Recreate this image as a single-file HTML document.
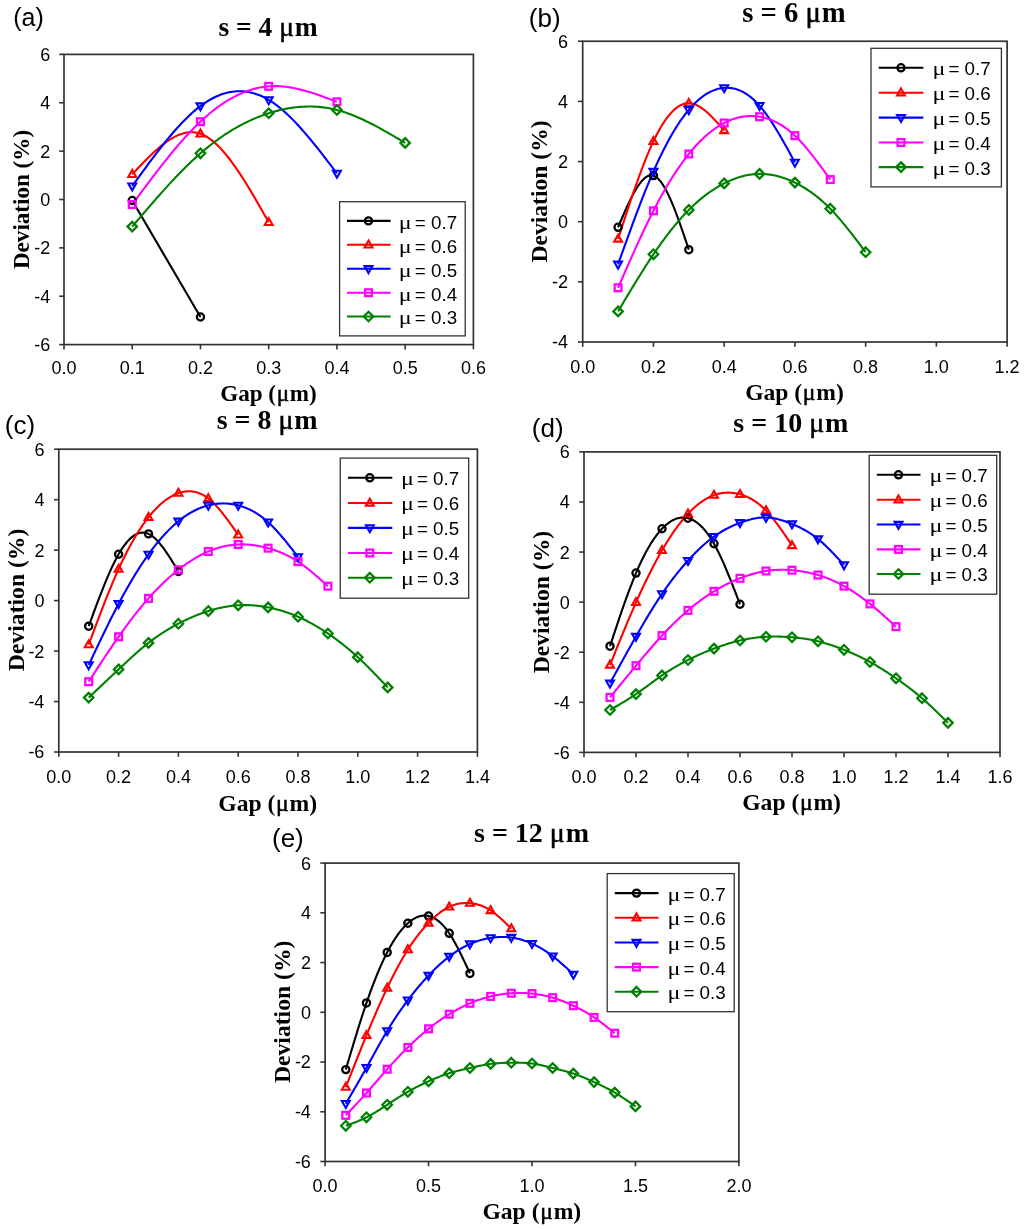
<!DOCTYPE html>
<html><head><meta charset="utf-8"><title>Deviation vs Gap</title>
<style>html,body{margin:0;padding:0;background:#fff;} svg{display:block;}</style>
</head><body>
<svg width="1024" height="1229" viewBox="0 0 1024 1229">
<rect width="1024" height="1229" fill="#fff"/>
<path d="M132.23 200.47L200.47 317.03" fill="none" stroke="#000000" stroke-width="2.1" stroke-linejoin="round"/>
<path d="M132.23 174.28L134.51 171.86L136.78 169.44L139.06 167.04L141.33 164.66L143.61 162.30L145.88 159.99L148.15 157.71L150.43 155.49L152.70 153.32L154.98 151.22L157.25 149.19L159.53 147.24L161.80 145.38L164.08 143.60L166.35 141.93L168.62 140.37L170.90 138.92L173.17 137.59L175.45 136.39L177.72 135.33L180.00 134.41L182.27 133.64L184.55 133.03L186.82 132.59L189.09 132.31L191.37 132.22L193.64 132.31L195.92 132.60L198.19 133.08L200.47 133.77L202.82 134.72L205.17 135.88L207.53 137.26L209.88 138.84L212.23 140.62L214.58 142.60L216.94 144.75L219.29 147.08L221.64 149.58L224.00 152.23L226.35 155.04L228.70 157.99L231.05 161.07L233.41 164.28L235.76 167.61L238.11 171.06L240.47 174.60L242.82 178.24L245.17 181.97L247.52 185.77L249.88 189.65L252.23 193.59L254.58 197.59L256.94 201.63L259.29 205.71L261.64 209.83L263.99 213.97L266.35 218.12L268.70 222.29" fill="none" stroke="#ff0000" stroke-width="2.1" stroke-linejoin="round"/>
<path d="M132.23 186.09L134.51 182.95L136.78 179.80L139.06 176.67L141.33 173.54L143.61 170.42L145.88 167.32L148.15 164.24L150.43 161.18L152.70 158.15L154.98 155.15L157.25 152.18L159.53 149.24L161.80 146.34L164.08 143.49L166.35 140.68L168.62 137.91L170.90 135.20L173.17 132.54L175.45 129.94L177.72 127.40L180.00 124.92L182.27 122.52L184.55 120.18L186.82 117.91L189.09 115.73L191.37 113.62L193.64 111.59L195.92 109.65L198.19 107.80L200.47 106.05L202.74 104.39L205.02 102.82L207.29 101.35L209.56 99.98L211.84 98.71L214.11 97.54L216.39 96.46L218.66 95.48L220.94 94.60L223.21 93.83L225.49 93.15L227.76 92.57L230.03 92.09L232.31 91.72L234.58 91.45L236.86 91.28L239.13 91.21L241.41 91.24L243.68 91.38L245.96 91.63L248.23 91.98L250.50 92.43L252.78 92.99L255.05 93.65L257.33 94.42L259.60 95.30L261.88 96.28L264.15 97.37L266.43 98.57L268.70 99.88L271.05 101.35L273.41 102.93L275.76 104.61L278.11 106.41L280.46 108.30L282.82 110.29L285.17 112.37L287.52 114.54L289.88 116.79L292.23 119.13L294.58 121.54L296.93 124.02L299.29 126.57L301.64 129.19L303.99 131.86L306.35 134.60L308.70 137.38L311.05 140.21L313.40 143.09L315.76 146.00L318.11 148.96L320.46 151.94L322.82 154.96L325.17 157.99L327.52 161.05L329.87 164.12L332.23 167.21L334.58 170.30L336.93 173.40" fill="none" stroke="#0000ff" stroke-width="2.1" stroke-linejoin="round"/>
<path d="M132.23 204.48L134.51 201.41L136.78 198.34L139.06 195.28L141.33 192.22L143.61 189.17L145.88 186.13L148.15 183.10L150.43 180.09L152.70 177.09L154.98 174.11L157.25 171.15L159.53 168.22L161.80 165.31L164.08 162.43L166.35 159.57L168.62 156.75L170.90 153.96L173.17 151.20L175.45 148.48L177.72 145.81L180.00 143.17L182.27 140.57L184.55 138.02L186.82 135.52L189.09 133.07L191.37 130.67L193.64 128.33L195.92 126.04L198.19 123.80L200.47 121.63L202.74 119.52L205.02 117.47L207.29 115.48L209.56 113.56L211.84 111.70L214.11 109.90L216.39 108.17L218.66 106.49L220.94 104.89L223.21 103.35L225.49 101.87L227.76 100.45L230.03 99.10L232.31 97.82L234.58 96.60L236.86 95.45L239.13 94.36L241.41 93.34L243.68 92.38L245.96 91.50L248.23 90.67L250.50 89.92L252.78 89.23L255.05 88.61L257.33 88.06L259.60 87.58L261.88 87.16L264.15 86.81L266.43 86.53L268.70 86.32L271.05 86.18L273.41 86.10L275.76 86.10L278.11 86.16L280.46 86.29L282.82 86.47L285.17 86.72L287.52 87.02L289.88 87.37L292.23 87.78L294.58 88.23L296.93 88.74L299.29 89.28L301.64 89.86L303.99 90.49L306.35 91.15L308.70 91.84L311.05 92.56L313.40 93.31L315.76 94.09L318.11 94.89L320.46 95.71L322.82 96.54L325.17 97.40L327.52 98.26L329.87 99.14L332.23 100.02L334.58 100.91L336.93 101.80" fill="none" stroke="#ff00ff" stroke-width="2.1" stroke-linejoin="round"/>
<path d="M132.23 226.59L134.51 223.91L136.78 221.24L139.06 218.57L141.33 215.91L143.61 213.25L145.88 210.60L148.15 207.96L150.43 205.33L152.70 202.71L154.98 200.11L157.25 197.52L159.53 194.95L161.80 192.40L164.08 189.87L166.35 187.35L168.62 184.87L170.90 182.40L173.17 179.96L175.45 177.55L177.72 175.17L180.00 172.82L182.27 170.51L184.55 168.22L186.82 165.97L189.09 163.76L191.37 161.59L193.64 159.45L195.92 157.36L198.19 155.31L200.47 153.31L202.74 151.35L205.02 149.44L207.29 147.57L209.56 145.75L211.84 143.97L214.11 142.24L216.39 140.55L218.66 138.91L220.94 137.31L223.21 135.75L225.49 134.24L227.76 132.77L230.03 131.34L232.31 129.95L234.58 128.61L236.86 127.30L239.13 126.04L241.41 124.82L243.68 123.64L245.96 122.50L248.23 121.40L250.50 120.34L252.78 119.32L255.05 118.34L257.33 117.40L259.60 116.50L261.88 115.63L264.15 114.80L266.43 114.01L268.70 113.26L270.97 112.55L273.25 111.87L275.52 111.23L277.80 110.63L280.07 110.07L282.35 109.54L284.62 109.06L286.90 108.62L289.17 108.22L291.44 107.86L293.72 107.54L295.99 107.26L298.27 107.03L300.54 106.84L302.82 106.69L305.09 106.59L307.37 106.53L309.64 106.51L311.91 106.55L314.19 106.62L316.46 106.75L318.74 106.92L321.01 107.14L323.29 107.40L325.56 107.71L327.84 108.08L330.11 108.49L332.38 108.95L334.66 109.46L336.93 110.02L339.29 110.66L341.64 111.34L343.99 112.08L346.34 112.87L348.70 113.70L351.05 114.58L353.40 115.50L355.76 116.46L358.11 117.47L360.46 118.51L362.81 119.58L365.17 120.69L367.52 121.83L369.87 123.00L372.23 124.20L374.58 125.43L376.93 126.68L379.29 127.95L381.64 129.25L383.99 130.56L386.34 131.89L388.70 133.24L391.05 134.59L393.40 135.96L395.76 137.34L398.11 138.73L400.46 140.12L402.81 141.51L405.17 142.91" fill="none" stroke="#008000" stroke-width="2.1" stroke-linejoin="round"/>
<circle cx="132.23" cy="200.47" r="3.60" fill="none" stroke="#000000" stroke-width="2.25"/>
<circle cx="200.47" cy="317.03" r="3.60" fill="none" stroke="#000000" stroke-width="2.25"/>
<path d="M132.23 169.98L136.18 176.93L128.28 176.93Z" fill="none" stroke="#ff0000" stroke-width="2.09" stroke-linejoin="miter"/>
<path d="M200.47 129.47L204.42 136.42L196.52 136.42Z" fill="none" stroke="#ff0000" stroke-width="2.09" stroke-linejoin="miter"/>
<path d="M268.70 217.99L272.65 224.94L264.75 224.94Z" fill="none" stroke="#ff0000" stroke-width="2.09" stroke-linejoin="miter"/>
<path d="M132.23 190.39L136.18 183.44L128.28 183.44Z" fill="none" stroke="#0000ff" stroke-width="2.09" stroke-linejoin="miter"/>
<path d="M200.47 110.35L204.42 103.40L196.52 103.40Z" fill="none" stroke="#0000ff" stroke-width="2.09" stroke-linejoin="miter"/>
<path d="M268.70 104.18L272.65 97.23L264.75 97.23Z" fill="none" stroke="#0000ff" stroke-width="2.09" stroke-linejoin="miter"/>
<path d="M336.93 177.70L340.88 170.75L332.98 170.75Z" fill="none" stroke="#0000ff" stroke-width="2.09" stroke-linejoin="miter"/>
<rect x="128.83" y="201.08" width="6.80" height="6.80" fill="none" stroke="#ff00ff" stroke-width="2.25"/>
<rect x="197.07" y="118.23" width="6.80" height="6.80" fill="none" stroke="#ff00ff" stroke-width="2.25"/>
<rect x="265.30" y="82.92" width="6.80" height="6.80" fill="none" stroke="#ff00ff" stroke-width="2.25"/>
<rect x="333.53" y="98.40" width="6.80" height="6.80" fill="none" stroke="#ff00ff" stroke-width="2.25"/>
<path d="M132.23 221.84L136.98 226.59L132.23 231.34L127.48 226.59Z" fill="none" stroke="#008000" stroke-width="2.25"/>
<path d="M200.47 148.56L205.22 153.31L200.47 158.06L195.72 153.31Z" fill="none" stroke="#008000" stroke-width="2.25"/>
<path d="M268.70 108.51L273.45 113.26L268.70 118.01L263.95 113.26Z" fill="none" stroke="#008000" stroke-width="2.25"/>
<path d="M336.93 105.27L341.68 110.02L336.93 114.77L332.18 110.02Z" fill="none" stroke="#008000" stroke-width="2.25"/>
<path d="M405.17 138.16L409.92 142.91L405.17 147.66L400.42 142.91Z" fill="none" stroke="#008000" stroke-width="2.25"/>
<rect x="64.0" y="54.4" width="409.40" height="290.20" fill="none" stroke="#333" stroke-width="1.7"/>
<line x1="64.00" y1="344.6" x2="64.00" y2="349.40000000000003" stroke="#333" stroke-width="1.6"/>
<text x="64.00" y="373.7" font-family="'Liberation Sans', Arial, sans-serif" font-size="18" text-anchor="middle">0.0</text>
<line x1="132.23" y1="344.6" x2="132.23" y2="349.40000000000003" stroke="#333" stroke-width="1.6"/>
<text x="132.23" y="373.7" font-family="'Liberation Sans', Arial, sans-serif" font-size="18" text-anchor="middle">0.1</text>
<line x1="200.47" y1="344.6" x2="200.47" y2="349.40000000000003" stroke="#333" stroke-width="1.6"/>
<text x="200.47" y="373.7" font-family="'Liberation Sans', Arial, sans-serif" font-size="18" text-anchor="middle">0.2</text>
<line x1="268.70" y1="344.6" x2="268.70" y2="349.40000000000003" stroke="#333" stroke-width="1.6"/>
<text x="268.70" y="373.7" font-family="'Liberation Sans', Arial, sans-serif" font-size="18" text-anchor="middle">0.3</text>
<line x1="336.93" y1="344.6" x2="336.93" y2="349.40000000000003" stroke="#333" stroke-width="1.6"/>
<text x="336.93" y="373.7" font-family="'Liberation Sans', Arial, sans-serif" font-size="18" text-anchor="middle">0.4</text>
<line x1="405.17" y1="344.6" x2="405.17" y2="349.40000000000003" stroke="#333" stroke-width="1.6"/>
<text x="405.17" y="373.7" font-family="'Liberation Sans', Arial, sans-serif" font-size="18" text-anchor="middle">0.5</text>
<line x1="473.40" y1="344.6" x2="473.40" y2="349.40000000000003" stroke="#333" stroke-width="1.6"/>
<text x="473.40" y="373.7" font-family="'Liberation Sans', Arial, sans-serif" font-size="18" text-anchor="middle">0.6</text>
<line x1="59.2" y1="344.60" x2="64.0" y2="344.60" stroke="#333" stroke-width="1.6"/>
<text x="50.3" y="351.04" font-family="'Liberation Sans', Arial, sans-serif" font-size="18" text-anchor="end">-6</text>
<line x1="59.2" y1="296.23" x2="64.0" y2="296.23" stroke="#333" stroke-width="1.6"/>
<text x="50.3" y="302.68" font-family="'Liberation Sans', Arial, sans-serif" font-size="18" text-anchor="end">-4</text>
<line x1="59.2" y1="247.87" x2="64.0" y2="247.87" stroke="#333" stroke-width="1.6"/>
<text x="50.3" y="254.31" font-family="'Liberation Sans', Arial, sans-serif" font-size="18" text-anchor="end">-2</text>
<line x1="59.2" y1="199.50" x2="64.0" y2="199.50" stroke="#333" stroke-width="1.6"/>
<text x="50.3" y="205.94" font-family="'Liberation Sans', Arial, sans-serif" font-size="18" text-anchor="end">0</text>
<line x1="59.2" y1="151.13" x2="64.0" y2="151.13" stroke="#333" stroke-width="1.6"/>
<text x="50.3" y="157.58" font-family="'Liberation Sans', Arial, sans-serif" font-size="18" text-anchor="end">2</text>
<line x1="59.2" y1="102.77" x2="64.0" y2="102.77" stroke="#333" stroke-width="1.6"/>
<text x="50.3" y="109.21" font-family="'Liberation Sans', Arial, sans-serif" font-size="18" text-anchor="end">4</text>
<line x1="59.2" y1="54.40" x2="64.0" y2="54.40" stroke="#333" stroke-width="1.6"/>
<text x="50.3" y="60.84" font-family="'Liberation Sans', Arial, sans-serif" font-size="18" text-anchor="end">6</text>
<text x="268.0" y="35.8" font-family="'Liberation Serif', 'Times New Roman', serif" font-weight="bold" font-size="27.5" text-anchor="middle">s = 4 <tspan font-weight="normal" stroke="#000" stroke-width="0.5">μ</tspan><tspan dx="0.8">m</tspan></text>
<text x="268.5" y="400.9" font-family="'Liberation Serif', 'Times New Roman', serif" font-weight="bold" font-size="23.1" text-anchor="middle">Gap (<tspan dx="0.6" font-weight="normal" stroke="#000" stroke-width="0.5">μ</tspan><tspan dx="0.8">m)</tspan></text>
<text transform="translate(29.2 199.5) rotate(-90)" x="0" y="0" font-family="'Liberation Serif', 'Times New Roman', serif" font-weight="bold" font-size="23.1" text-anchor="middle">Deviation (%)</text>
<text x="13.2" y="25.8" font-family="'Liberation Sans', Arial, sans-serif" font-size="25">(a)</text>
<rect x="339.6" y="201.7" width="125.60" height="134.20" fill="#fff" stroke="#333" stroke-width="1.3"/>
<line x1="347" y1="220.9" x2="390.6" y2="220.9" stroke="#000000" stroke-width="2.1"/>
<circle cx="368.50" cy="220.90" r="3.60" fill="none" stroke="#000000" stroke-width="2.25"/>
<text transform="translate(398.80 228.70) scale(1.28 1)" font-family="'Liberation Serif', 'Times New Roman', serif" font-size="18.8">μ</text>
<text x="414.80" y="228.70" font-family="'Liberation Sans', Arial, sans-serif" font-size="18.8">= 0.7</text>
<line x1="347" y1="244.8" x2="390.6" y2="244.8" stroke="#ff0000" stroke-width="2.1"/>
<path d="M368.50 240.50L372.45 247.45L364.55 247.45Z" fill="none" stroke="#ff0000" stroke-width="2.09" stroke-linejoin="miter"/>
<text transform="translate(398.80 252.60) scale(1.28 1)" font-family="'Liberation Serif', 'Times New Roman', serif" font-size="18.8">μ</text>
<text x="414.80" y="252.60" font-family="'Liberation Sans', Arial, sans-serif" font-size="18.8">= 0.6</text>
<line x1="347" y1="268.8" x2="390.6" y2="268.8" stroke="#0000ff" stroke-width="2.1"/>
<path d="M368.50 273.10L372.45 266.15L364.55 266.15Z" fill="none" stroke="#0000ff" stroke-width="2.09" stroke-linejoin="miter"/>
<text transform="translate(398.80 276.60) scale(1.28 1)" font-family="'Liberation Serif', 'Times New Roman', serif" font-size="18.8">μ</text>
<text x="414.80" y="276.60" font-family="'Liberation Sans', Arial, sans-serif" font-size="18.8">= 0.5</text>
<line x1="347" y1="292.7" x2="390.6" y2="292.7" stroke="#ff00ff" stroke-width="2.1"/>
<rect x="365.10" y="289.30" width="6.80" height="6.80" fill="none" stroke="#ff00ff" stroke-width="2.25"/>
<text transform="translate(398.80 300.50) scale(1.28 1)" font-family="'Liberation Serif', 'Times New Roman', serif" font-size="18.8">μ</text>
<text x="414.80" y="300.50" font-family="'Liberation Sans', Arial, sans-serif" font-size="18.8">= 0.4</text>
<line x1="347" y1="316.5" x2="390.6" y2="316.5" stroke="#008000" stroke-width="2.1"/>
<path d="M368.50 311.75L373.25 316.50L368.50 321.25L363.75 316.50Z" fill="none" stroke="#008000" stroke-width="2.25"/>
<text transform="translate(398.80 324.30) scale(1.28 1)" font-family="'Liberation Serif', 'Times New Roman', serif" font-size="18.8">μ</text>
<text x="414.80" y="324.30" font-family="'Liberation Sans', Arial, sans-serif" font-size="18.8">= 0.3</text>
<path d="M618.07 227.29L619.25 224.52L620.42 221.76L621.60 219.01L622.78 216.28L623.96 213.58L625.14 210.92L626.32 208.29L627.50 205.72L628.68 203.20L629.86 200.74L631.03 198.36L632.21 196.05L633.39 193.82L634.57 191.69L635.75 189.65L636.93 187.72L638.11 185.90L639.29 184.20L640.47 182.62L641.64 181.18L642.82 179.88L644.00 178.72L645.18 177.72L646.36 176.88L647.54 176.21L648.72 175.71L649.90 175.39L651.08 175.26L652.25 175.33L653.43 175.60L654.65 176.09L655.87 176.80L657.09 177.73L658.31 178.85L659.53 180.17L660.75 181.67L661.97 183.35L663.19 185.20L664.41 187.21L665.63 189.38L666.85 191.69L668.07 194.15L669.29 196.73L670.51 199.44L671.73 202.27L672.95 205.20L674.17 208.23L675.39 211.36L676.60 214.57L677.82 217.86L679.04 221.22L680.26 224.64L681.48 228.12L682.70 231.64L683.92 235.20L685.14 238.79L686.36 242.40L687.58 246.03L688.80 249.67" fill="none" stroke="#000000" stroke-width="2.1" stroke-linejoin="round"/>
<path d="M618.07 238.99L619.25 235.35L620.42 231.71L621.60 228.08L622.78 224.46L623.96 220.84L625.14 217.24L626.32 213.65L627.50 210.09L628.68 206.54L629.86 203.01L631.03 199.52L632.21 196.04L633.39 192.60L634.57 189.20L635.75 185.83L636.93 182.49L638.11 179.20L639.29 175.95L640.47 172.75L641.64 169.60L642.82 166.50L644.00 163.45L645.18 160.46L646.36 157.52L647.54 154.65L648.72 151.85L649.90 149.10L651.08 146.43L652.25 143.83L653.43 141.31L654.61 138.86L655.79 136.49L656.97 134.19L658.15 131.98L659.33 129.84L660.51 127.78L661.69 125.80L662.86 123.90L664.04 122.08L665.22 120.34L666.40 118.69L667.58 117.11L668.76 115.62L669.94 114.21L671.12 112.88L672.30 111.64L673.47 110.47L674.65 109.40L675.83 108.41L677.01 107.50L678.19 106.68L679.37 105.94L680.55 105.29L681.73 104.73L682.91 104.26L684.08 103.87L685.26 103.57L686.44 103.36L687.62 103.23L688.80 103.20L690.02 103.26L691.24 103.42L692.46 103.66L693.68 103.99L694.90 104.40L696.12 104.89L697.34 105.46L698.56 106.10L699.78 106.81L701.00 107.58L702.21 108.42L703.43 109.32L704.65 110.27L705.87 111.28L707.09 112.34L708.31 113.44L709.53 114.59L710.75 115.78L711.97 117.00L713.19 118.26L714.41 119.54L715.63 120.86L716.85 122.19L718.07 123.55L719.29 124.92L720.51 126.31L721.73 127.70L722.95 129.10L724.17 130.51" fill="none" stroke="#ff0000" stroke-width="2.1" stroke-linejoin="round"/>
<path d="M618.07 264.31L619.25 261.01L620.42 257.72L621.60 254.42L622.78 251.14L623.96 247.85L625.14 244.58L626.32 241.31L627.50 238.05L628.68 234.81L629.86 231.57L631.03 228.35L632.21 225.14L633.39 221.95L634.57 218.78L635.75 215.63L636.93 212.49L638.11 209.38L639.29 206.29L640.47 203.23L641.64 200.19L642.82 197.17L644.00 194.19L645.18 191.23L646.36 188.31L647.54 185.42L648.72 182.56L649.90 179.74L651.08 176.95L652.25 174.20L653.43 171.49L654.61 168.82L655.79 166.20L656.97 163.61L658.15 161.06L659.33 158.55L660.51 156.09L661.69 153.67L662.86 151.29L664.04 148.95L665.22 146.65L666.40 144.39L667.58 142.18L668.76 140.01L669.94 137.88L671.12 135.80L672.30 133.76L673.47 131.76L674.65 129.80L675.83 127.89L677.01 126.03L678.19 124.20L679.37 122.42L680.55 120.69L681.73 119.00L682.91 117.36L684.08 115.76L685.26 114.20L686.44 112.69L687.62 111.23L688.80 109.81L689.98 108.44L691.16 107.11L692.34 105.83L693.52 104.59L694.69 103.40L695.87 102.26L697.05 101.16L698.23 100.10L699.41 99.09L700.59 98.13L701.77 97.20L702.95 96.33L704.13 95.49L705.30 94.70L706.48 93.95L707.66 93.25L708.84 92.59L710.02 91.97L711.20 91.40L712.38 90.87L713.56 90.38L714.74 89.94L715.91 89.53L717.09 89.17L718.27 88.85L719.45 88.58L720.63 88.34L721.81 88.15L722.99 88.00L724.17 87.89L725.35 87.82L726.52 87.79L727.70 87.80L728.88 87.86L730.06 87.96L731.24 88.10L732.42 88.28L733.60 88.52L734.78 88.79L735.96 89.11L737.13 89.48L738.31 89.89L739.49 90.35L740.67 90.85L741.85 91.41L743.03 92.01L744.21 92.65L745.39 93.35L746.57 94.10L747.74 94.90L748.92 95.74L750.10 96.64L751.28 97.59L752.46 98.59L753.64 99.64L754.82 100.74L756.00 101.90L757.18 103.11L758.35 104.37L759.53 105.69L760.75 107.11L761.97 108.59L763.19 110.12L764.41 111.70L765.63 113.33L766.85 115.02L768.07 116.74L769.29 118.52L770.51 120.33L771.73 122.19L772.95 124.08L774.17 126.01L775.39 127.97L776.61 129.97L777.83 132.00L779.05 134.05L780.27 136.13L781.49 138.24L782.70 140.36L783.92 142.51L785.14 144.68L786.36 146.86L787.58 149.05L788.80 151.26L790.02 153.48L791.24 155.71L792.46 157.94L793.68 160.17L794.90 162.41" fill="none" stroke="#0000ff" stroke-width="2.1" stroke-linejoin="round"/>
<path d="M618.07 287.80L619.25 285.11L620.42 282.41L621.60 279.72L622.78 277.02L623.96 274.34L625.14 271.65L626.32 268.97L627.50 266.30L628.68 263.63L629.86 260.98L631.03 258.33L632.21 255.69L633.39 253.06L634.57 250.44L635.75 247.83L636.93 245.24L638.11 242.66L639.29 240.10L640.47 237.55L641.64 235.02L642.82 232.51L644.00 230.01L645.18 227.53L646.36 225.08L647.54 222.64L648.72 220.23L649.90 217.84L651.08 215.47L652.25 213.13L653.43 210.81L654.61 208.52L655.79 206.26L656.97 204.02L658.15 201.81L659.33 199.62L660.51 197.46L661.69 195.33L662.86 193.23L664.04 191.15L665.22 189.10L666.40 187.08L667.58 185.08L668.76 183.12L669.94 181.18L671.12 179.26L672.30 177.38L673.47 175.52L674.65 173.70L675.83 171.90L677.01 170.13L678.19 168.38L679.37 166.67L680.55 164.98L681.73 163.33L682.91 161.70L684.08 160.10L685.26 158.53L686.44 156.99L687.62 155.48L688.80 154.00L689.98 152.55L691.16 151.13L692.34 149.74L693.52 148.37L694.69 147.04L695.87 145.73L697.05 144.46L698.23 143.21L699.41 142.00L700.59 140.81L701.77 139.65L702.95 138.52L704.13 137.42L705.30 136.34L706.48 135.30L707.66 134.28L708.84 133.29L710.02 132.33L711.20 131.40L712.38 130.50L713.56 129.62L714.74 128.78L715.91 127.96L717.09 127.17L718.27 126.40L719.45 125.66L720.63 124.96L721.81 124.27L722.99 123.62L724.17 122.99L725.35 122.39L726.52 121.82L727.70 121.28L728.88 120.76L730.06 120.27L731.24 119.80L732.42 119.37L733.60 118.96L734.78 118.58L735.96 118.22L737.13 117.89L738.31 117.59L739.49 117.32L740.67 117.07L741.85 116.85L743.03 116.65L744.21 116.49L745.39 116.34L746.57 116.23L747.74 116.14L748.92 116.08L750.10 116.05L751.28 116.04L752.46 116.06L753.64 116.11L754.82 116.18L756.00 116.28L757.18 116.41L758.35 116.56L759.53 116.74L760.71 116.94L761.89 117.18L763.07 117.43L764.25 117.72L765.43 118.04L766.61 118.38L767.79 118.75L768.96 119.15L770.14 119.57L771.32 120.03L772.50 120.51L773.68 121.03L774.86 121.58L776.04 122.15L777.22 122.76L778.40 123.39L779.57 124.06L780.75 124.76L781.93 125.49L783.11 126.25L784.29 127.04L785.47 127.87L786.65 128.73L787.83 129.62L789.01 130.55L790.18 131.51L791.36 132.50L792.54 133.53L793.72 134.59L794.90 135.69L796.12 136.86L797.34 138.06L798.56 139.30L799.78 140.58L801.00 141.89L802.22 143.23L803.44 144.59L804.66 145.99L805.88 147.41L807.10 148.86L808.31 150.34L809.53 151.84L810.75 153.35L811.97 154.89L813.19 156.45L814.41 158.03L815.63 159.63L816.85 161.24L818.07 162.86L819.29 164.50L820.51 166.14L821.73 167.80L822.95 169.47L824.17 171.15L825.39 172.83L826.61 174.52L827.83 176.21L829.05 177.90L830.27 179.60" fill="none" stroke="#ff00ff" stroke-width="2.1" stroke-linejoin="round"/>
<path d="M618.07 311.41L619.25 309.43L620.42 307.45L621.60 305.47L622.78 303.49L623.96 301.51L625.14 299.53L626.32 297.56L627.50 295.59L628.68 293.63L629.86 291.67L631.03 289.72L632.21 287.77L633.39 285.83L634.57 283.89L635.75 281.97L636.93 280.05L638.11 278.13L639.29 276.23L640.47 274.34L641.64 272.46L642.82 270.59L644.00 268.73L645.18 266.88L646.36 265.04L647.54 263.21L648.72 261.40L649.90 259.61L651.08 257.82L652.25 256.05L653.43 254.30L654.61 252.56L655.79 250.84L656.97 249.14L658.15 247.45L659.33 245.78L660.51 244.12L661.69 242.48L662.86 240.86L664.04 239.26L665.22 237.67L666.40 236.10L667.58 234.55L668.76 233.02L669.94 231.51L671.12 230.01L672.30 228.53L673.47 227.08L674.65 225.64L675.83 224.22L677.01 222.81L678.19 221.43L679.37 220.07L680.55 218.73L681.73 217.41L682.91 216.11L684.08 214.83L685.26 213.57L686.44 212.33L687.62 211.11L688.80 209.91L689.98 208.73L691.16 207.58L692.34 206.45L693.52 205.33L694.69 204.24L695.87 203.17L697.05 202.12L698.23 201.09L699.41 200.08L700.59 199.09L701.77 198.12L702.95 197.18L704.13 196.25L705.30 195.34L706.48 194.45L707.66 193.58L708.84 192.73L710.02 191.90L711.20 191.09L712.38 190.29L713.56 189.52L714.74 188.76L715.91 188.03L717.09 187.31L718.27 186.61L719.45 185.93L720.63 185.27L721.81 184.62L722.99 183.99L724.17 183.38L725.35 182.79L726.52 182.22L727.70 181.66L728.88 181.13L730.06 180.61L731.24 180.11L732.42 179.62L733.60 179.16L734.78 178.71L735.96 178.29L737.13 177.88L738.31 177.49L739.49 177.12L740.67 176.77L741.85 176.44L743.03 176.13L744.21 175.84L745.39 175.57L746.57 175.32L747.74 175.09L748.92 174.88L750.10 174.69L751.28 174.52L752.46 174.37L753.64 174.24L754.82 174.13L756.00 174.04L757.18 173.98L758.35 173.93L759.53 173.91L760.71 173.91L761.89 173.93L763.07 173.97L764.25 174.03L765.43 174.11L766.61 174.22L767.79 174.34L768.96 174.49L770.14 174.65L771.32 174.84L772.50 175.04L773.68 175.27L774.86 175.51L776.04 175.78L777.22 176.06L778.40 176.37L779.57 176.69L780.75 177.04L781.93 177.40L783.11 177.78L784.29 178.18L785.47 178.60L786.65 179.03L787.83 179.49L789.01 179.96L790.18 180.46L791.36 180.97L792.54 181.49L793.72 182.04L794.90 182.60L796.08 183.18L797.26 183.78L798.44 184.40L799.62 185.03L800.79 185.69L801.97 186.36L803.15 187.05L804.33 187.76L805.51 188.49L806.69 189.24L807.87 190.01L809.05 190.80L810.23 191.61L811.40 192.44L812.58 193.29L813.76 194.16L814.94 195.05L816.12 195.97L817.30 196.90L818.48 197.86L819.66 198.84L820.84 199.85L822.01 200.87L823.19 201.92L824.37 202.99L825.55 204.09L826.73 205.21L827.91 206.35L829.09 207.52L830.27 208.71L831.49 209.97L832.71 211.25L833.93 212.56L835.14 213.89L836.36 215.24L837.58 216.62L838.80 218.02L840.02 219.43L841.24 220.87L842.46 222.32L843.68 223.80L844.90 225.28L846.12 226.79L847.34 228.30L848.56 229.84L849.78 231.38L851.00 232.94L852.22 234.50L853.44 236.08L854.66 237.66L855.88 239.26L857.10 240.86L858.32 242.47L859.54 244.08L860.76 245.70L861.97 247.32L863.19 248.94L864.41 250.57L865.63 252.20" fill="none" stroke="#008000" stroke-width="2.1" stroke-linejoin="round"/>
<circle cx="618.07" cy="227.29" r="3.60" fill="none" stroke="#000000" stroke-width="2.25"/>
<circle cx="653.43" cy="175.60" r="3.60" fill="none" stroke="#000000" stroke-width="2.25"/>
<circle cx="688.80" cy="249.67" r="3.60" fill="none" stroke="#000000" stroke-width="2.25"/>
<path d="M618.07 234.69L622.02 241.64L614.12 241.64Z" fill="none" stroke="#ff0000" stroke-width="2.09" stroke-linejoin="miter"/>
<path d="M653.43 137.01L657.38 143.96L649.48 143.96Z" fill="none" stroke="#ff0000" stroke-width="2.09" stroke-linejoin="miter"/>
<path d="M688.80 98.90L692.75 105.85L684.85 105.85Z" fill="none" stroke="#ff0000" stroke-width="2.09" stroke-linejoin="miter"/>
<path d="M724.17 126.21L728.12 133.16L720.22 133.16Z" fill="none" stroke="#ff0000" stroke-width="2.09" stroke-linejoin="miter"/>
<path d="M618.07 268.61L622.02 261.66L614.12 261.66Z" fill="none" stroke="#0000ff" stroke-width="2.09" stroke-linejoin="miter"/>
<path d="M653.43 175.79L657.38 168.84L649.48 168.84Z" fill="none" stroke="#0000ff" stroke-width="2.09" stroke-linejoin="miter"/>
<path d="M688.80 114.11L692.75 107.16L684.85 107.16Z" fill="none" stroke="#0000ff" stroke-width="2.09" stroke-linejoin="miter"/>
<path d="M724.17 92.19L728.12 85.24L720.22 85.24Z" fill="none" stroke="#0000ff" stroke-width="2.09" stroke-linejoin="miter"/>
<path d="M759.53 109.99L763.48 103.04L755.58 103.04Z" fill="none" stroke="#0000ff" stroke-width="2.09" stroke-linejoin="miter"/>
<path d="M794.90 166.71L798.85 159.76L790.95 159.76Z" fill="none" stroke="#0000ff" stroke-width="2.09" stroke-linejoin="miter"/>
<rect x="614.67" y="284.40" width="6.80" height="6.80" fill="none" stroke="#ff00ff" stroke-width="2.25"/>
<rect x="650.03" y="207.41" width="6.80" height="6.80" fill="none" stroke="#ff00ff" stroke-width="2.25"/>
<rect x="685.40" y="150.60" width="6.80" height="6.80" fill="none" stroke="#ff00ff" stroke-width="2.25"/>
<rect x="720.77" y="119.59" width="6.80" height="6.80" fill="none" stroke="#ff00ff" stroke-width="2.25"/>
<rect x="756.13" y="113.34" width="6.80" height="6.80" fill="none" stroke="#ff00ff" stroke-width="2.25"/>
<rect x="791.50" y="132.29" width="6.80" height="6.80" fill="none" stroke="#ff00ff" stroke-width="2.25"/>
<rect x="826.87" y="176.19" width="6.80" height="6.80" fill="none" stroke="#ff00ff" stroke-width="2.25"/>
<path d="M618.07 306.66L622.82 311.41L618.07 316.16L613.32 311.41Z" fill="none" stroke="#008000" stroke-width="2.25"/>
<path d="M653.43 249.55L658.18 254.30L653.43 259.05L648.68 254.30Z" fill="none" stroke="#008000" stroke-width="2.25"/>
<path d="M688.80 205.16L693.55 209.91L688.80 214.66L684.05 209.91Z" fill="none" stroke="#008000" stroke-width="2.25"/>
<path d="M724.17 178.63L728.92 183.38L724.17 188.13L719.42 183.38Z" fill="none" stroke="#008000" stroke-width="2.25"/>
<path d="M759.53 169.16L764.28 173.91L759.53 178.66L754.78 173.91Z" fill="none" stroke="#008000" stroke-width="2.25"/>
<path d="M794.90 177.85L799.65 182.60L794.90 187.35L790.15 182.60Z" fill="none" stroke="#008000" stroke-width="2.25"/>
<path d="M830.27 203.96L835.02 208.71L830.27 213.46L825.52 208.71Z" fill="none" stroke="#008000" stroke-width="2.25"/>
<path d="M865.63 247.45L870.38 252.20L865.63 256.95L860.88 252.20Z" fill="none" stroke="#008000" stroke-width="2.25"/>
<rect x="582.7" y="41.25" width="424.40" height="300.75" fill="none" stroke="#333" stroke-width="1.7"/>
<line x1="582.70" y1="342.0" x2="582.70" y2="346.8" stroke="#333" stroke-width="1.6"/>
<text x="582.70" y="372.6" font-family="'Liberation Sans', Arial, sans-serif" font-size="18" text-anchor="middle">0.0</text>
<line x1="653.43" y1="342.0" x2="653.43" y2="346.8" stroke="#333" stroke-width="1.6"/>
<text x="653.43" y="372.6" font-family="'Liberation Sans', Arial, sans-serif" font-size="18" text-anchor="middle">0.2</text>
<line x1="724.17" y1="342.0" x2="724.17" y2="346.8" stroke="#333" stroke-width="1.6"/>
<text x="724.17" y="372.6" font-family="'Liberation Sans', Arial, sans-serif" font-size="18" text-anchor="middle">0.4</text>
<line x1="794.90" y1="342.0" x2="794.90" y2="346.8" stroke="#333" stroke-width="1.6"/>
<text x="794.90" y="372.6" font-family="'Liberation Sans', Arial, sans-serif" font-size="18" text-anchor="middle">0.6</text>
<line x1="865.63" y1="342.0" x2="865.63" y2="346.8" stroke="#333" stroke-width="1.6"/>
<text x="865.63" y="372.6" font-family="'Liberation Sans', Arial, sans-serif" font-size="18" text-anchor="middle">0.8</text>
<line x1="936.37" y1="342.0" x2="936.37" y2="346.8" stroke="#333" stroke-width="1.6"/>
<text x="936.37" y="372.6" font-family="'Liberation Sans', Arial, sans-serif" font-size="18" text-anchor="middle">1.0</text>
<line x1="1007.10" y1="342.0" x2="1007.10" y2="346.8" stroke="#333" stroke-width="1.6"/>
<text x="1007.10" y="372.6" font-family="'Liberation Sans', Arial, sans-serif" font-size="18" text-anchor="middle">1.2</text>
<line x1="577.9000000000001" y1="342.00" x2="582.7" y2="342.00" stroke="#333" stroke-width="1.6"/>
<text x="568.0" y="348.44" font-family="'Liberation Sans', Arial, sans-serif" font-size="18" text-anchor="end">-4</text>
<line x1="577.9000000000001" y1="281.85" x2="582.7" y2="281.85" stroke="#333" stroke-width="1.6"/>
<text x="568.0" y="288.29" font-family="'Liberation Sans', Arial, sans-serif" font-size="18" text-anchor="end">-2</text>
<line x1="577.9000000000001" y1="221.70" x2="582.7" y2="221.70" stroke="#333" stroke-width="1.6"/>
<text x="568.0" y="228.14" font-family="'Liberation Sans', Arial, sans-serif" font-size="18" text-anchor="end">0</text>
<line x1="577.9000000000001" y1="161.55" x2="582.7" y2="161.55" stroke="#333" stroke-width="1.6"/>
<text x="568.0" y="167.99" font-family="'Liberation Sans', Arial, sans-serif" font-size="18" text-anchor="end">2</text>
<line x1="577.9000000000001" y1="101.40" x2="582.7" y2="101.40" stroke="#333" stroke-width="1.6"/>
<text x="568.0" y="107.84" font-family="'Liberation Sans', Arial, sans-serif" font-size="18" text-anchor="end">4</text>
<line x1="577.9000000000001" y1="41.25" x2="582.7" y2="41.25" stroke="#333" stroke-width="1.6"/>
<text x="568.0" y="47.69" font-family="'Liberation Sans', Arial, sans-serif" font-size="18" text-anchor="end">6</text>
<text x="793.9" y="21.9" font-family="'Liberation Serif', 'Times New Roman', serif" font-weight="bold" font-size="28.7" text-anchor="middle">s = 6 <tspan font-weight="normal" stroke="#000" stroke-width="0.5">μ</tspan><tspan dx="0.8">m</tspan></text>
<text x="794.5" y="400.4" font-family="'Liberation Serif', 'Times New Roman', serif" font-weight="bold" font-size="23.6" text-anchor="middle">Gap (<tspan dx="0.6" font-weight="normal" stroke="#000" stroke-width="0.5">μ</tspan><tspan dx="0.8">m)</tspan></text>
<text transform="translate(546.6 191.5) rotate(-90)" x="0" y="0" font-family="'Liberation Serif', 'Times New Roman', serif" font-weight="bold" font-size="23.6" text-anchor="middle">Deviation (%)</text>
<text x="528.8" y="26.9" font-family="'Liberation Sans', Arial, sans-serif" font-size="26">(b)</text>
<rect x="871.0" y="48.3" width="130.40" height="138.60" fill="#fff" stroke="#333" stroke-width="1.3"/>
<line x1="878.7" y1="67.8" x2="923.4" y2="67.8" stroke="#000000" stroke-width="2.1"/>
<circle cx="901.00" cy="67.80" r="3.60" fill="none" stroke="#000000" stroke-width="2.25"/>
<text transform="translate(932.40 75.20) scale(1.28 1)" font-family="'Liberation Serif', 'Times New Roman', serif" font-size="18.8">μ</text>
<text x="948.40" y="75.20" font-family="'Liberation Sans', Arial, sans-serif" font-size="18.8">= 0.7</text>
<line x1="878.7" y1="92.7" x2="923.4" y2="92.7" stroke="#ff0000" stroke-width="2.1"/>
<path d="M901.00 88.40L904.95 95.35L897.05 95.35Z" fill="none" stroke="#ff0000" stroke-width="2.09" stroke-linejoin="miter"/>
<text transform="translate(932.40 100.10) scale(1.28 1)" font-family="'Liberation Serif', 'Times New Roman', serif" font-size="18.8">μ</text>
<text x="948.40" y="100.10" font-family="'Liberation Sans', Arial, sans-serif" font-size="18.8">= 0.6</text>
<line x1="878.7" y1="117.6" x2="923.4" y2="117.6" stroke="#0000ff" stroke-width="2.1"/>
<path d="M901.00 121.90L904.95 114.95L897.05 114.95Z" fill="none" stroke="#0000ff" stroke-width="2.09" stroke-linejoin="miter"/>
<text transform="translate(932.40 125.00) scale(1.28 1)" font-family="'Liberation Serif', 'Times New Roman', serif" font-size="18.8">μ</text>
<text x="948.40" y="125.00" font-family="'Liberation Sans', Arial, sans-serif" font-size="18.8">= 0.5</text>
<line x1="878.7" y1="142.5" x2="923.4" y2="142.5" stroke="#ff00ff" stroke-width="2.1"/>
<rect x="897.60" y="139.10" width="6.80" height="6.80" fill="none" stroke="#ff00ff" stroke-width="2.25"/>
<text transform="translate(932.40 149.90) scale(1.28 1)" font-family="'Liberation Serif', 'Times New Roman', serif" font-size="18.8">μ</text>
<text x="948.40" y="149.90" font-family="'Liberation Sans', Arial, sans-serif" font-size="18.8">= 0.4</text>
<line x1="878.7" y1="167.1" x2="923.4" y2="167.1" stroke="#008000" stroke-width="2.1"/>
<path d="M901.00 162.35L905.75 167.10L901.00 171.85L896.25 167.10Z" fill="none" stroke="#008000" stroke-width="2.25"/>
<text transform="translate(932.40 174.50) scale(1.28 1)" font-family="'Liberation Serif', 'Times New Roman', serif" font-size="18.8">μ</text>
<text x="948.40" y="174.50" font-family="'Liberation Sans', Arial, sans-serif" font-size="18.8">= 0.3</text>
<path d="M88.70 626.19L89.70 623.46L90.69 620.74L91.69 618.02L92.69 615.30L93.68 612.60L94.68 609.91L95.68 607.23L96.67 604.56L97.67 601.92L98.67 599.29L99.66 596.68L100.66 594.10L101.66 591.55L102.65 589.02L103.65 586.53L104.65 584.06L105.64 581.64L106.64 579.25L107.64 576.90L108.63 574.59L109.63 572.32L110.63 570.10L111.62 567.93L112.62 565.81L113.62 563.74L114.61 561.73L115.61 559.77L116.61 557.88L117.60 556.04L118.60 554.27L119.60 552.57L120.59 550.93L121.59 549.35L122.59 547.85L123.58 546.41L124.58 545.04L125.58 543.74L126.57 542.51L127.57 541.35L128.57 540.25L129.56 539.23L130.56 538.28L131.56 537.40L132.55 536.60L133.55 535.86L134.55 535.20L135.54 534.62L136.54 534.10L137.54 533.66L138.53 533.30L139.53 533.01L140.53 532.80L141.52 532.66L142.52 532.60L143.52 532.62L144.51 532.71L145.51 532.89L146.51 533.14L147.50 533.47L148.50 533.88L149.53 534.39L150.56 534.98L151.59 535.66L152.62 536.41L153.66 537.23L154.69 538.12L155.72 539.09L156.75 540.11L157.78 541.20L158.81 542.35L159.84 543.55L160.87 544.81L161.90 546.12L162.93 547.48L163.97 548.88L165.00 550.32L166.03 551.80L167.06 553.31L168.09 554.86L169.12 556.44L170.15 558.04L171.18 559.67L172.21 561.32L173.24 562.99L174.28 564.67L175.31 566.36L176.34 568.06L177.37 569.77L178.40 571.48" fill="none" stroke="#000000" stroke-width="2.1" stroke-linejoin="round"/>
<path d="M88.70 644.60L89.70 641.92L90.69 639.25L91.69 636.57L92.69 633.90L93.68 631.24L94.68 628.58L95.68 625.92L96.67 623.27L97.67 620.64L98.67 618.01L99.66 615.39L100.66 612.78L101.66 610.19L102.65 607.61L103.65 605.04L104.65 602.49L105.64 599.96L106.64 597.45L107.64 594.95L108.63 592.48L109.63 590.03L110.63 587.59L111.62 585.19L112.62 582.80L113.62 580.44L114.61 578.11L115.61 575.81L116.61 573.53L117.60 571.29L118.60 569.08L119.60 566.89L120.59 564.74L121.59 562.62L122.59 560.53L123.58 558.48L124.58 556.46L125.58 554.46L126.57 552.50L127.57 550.57L128.57 548.67L129.56 546.81L130.56 544.97L131.56 543.17L132.55 541.40L133.55 539.66L134.55 537.95L135.54 536.27L136.54 534.62L137.54 533.01L138.53 531.42L139.53 529.87L140.53 528.34L141.52 526.85L142.52 525.39L143.52 523.96L144.51 522.56L145.51 521.19L146.51 519.85L147.50 518.55L148.50 517.27L149.50 516.03L150.49 514.81L151.49 513.63L152.49 512.47L153.48 511.35L154.48 510.26L155.48 509.19L156.47 508.16L157.47 507.16L158.47 506.19L159.46 505.25L160.46 504.34L161.46 503.46L162.45 502.61L163.45 501.79L164.45 501.01L165.44 500.25L166.44 499.52L167.44 498.83L168.43 498.16L169.43 497.53L170.43 496.92L171.42 496.35L172.42 495.80L173.42 495.29L174.41 494.80L175.41 494.35L176.41 493.93L177.40 493.54L178.40 493.17L179.40 492.84L180.39 492.54L181.39 492.27L182.39 492.03L183.38 491.83L184.38 491.65L185.38 491.51L186.37 491.41L187.37 491.33L188.37 491.30L189.36 491.29L190.36 491.32L191.36 491.39L192.35 491.50L193.35 491.64L194.35 491.81L195.34 492.03L196.34 492.28L197.34 492.58L198.33 492.91L199.33 493.28L200.33 493.69L201.32 494.14L202.32 494.63L203.32 495.17L204.31 495.74L205.31 496.36L206.31 497.02L207.30 497.73L208.30 498.47L209.33 499.29L210.36 500.16L211.39 501.06L212.42 502.02L213.46 503.01L214.49 504.04L215.52 505.11L216.55 506.21L217.58 507.35L218.61 508.52L219.64 509.72L220.67 510.95L221.70 512.21L222.73 513.49L223.77 514.80L224.80 516.14L225.83 517.49L226.86 518.86L227.89 520.25L228.92 521.66L229.95 523.08L230.98 524.51L232.01 525.96L233.04 527.42L234.08 528.88L235.11 530.35L236.14 531.82L237.17 533.30L238.20 534.78" fill="none" stroke="#ff0000" stroke-width="2.1" stroke-linejoin="round"/>
<path d="M88.70 664.99L89.70 662.88L90.69 660.76L91.69 658.65L92.69 656.53L93.68 654.42L94.68 652.31L95.68 650.21L96.67 648.11L97.67 646.01L98.67 643.92L99.66 641.83L100.66 639.75L101.66 637.67L102.65 635.60L103.65 633.54L104.65 631.48L105.64 629.43L106.64 627.39L107.64 625.36L108.63 623.34L109.63 621.33L110.63 619.33L111.62 617.34L112.62 615.37L113.62 613.40L114.61 611.45L115.61 609.51L116.61 607.58L117.60 605.67L118.60 603.77L119.60 601.89L120.59 600.03L121.59 598.17L122.59 596.34L123.58 594.52L124.58 592.71L125.58 590.92L126.57 589.15L127.57 587.39L128.57 585.65L129.56 583.92L130.56 582.21L131.56 580.52L132.55 578.84L133.55 577.19L134.55 575.54L135.54 573.92L136.54 572.31L137.54 570.72L138.53 569.14L139.53 567.58L140.53 566.04L141.52 564.52L142.52 563.02L143.52 561.53L144.51 560.06L145.51 558.61L146.51 557.18L147.50 555.76L148.50 554.37L149.50 552.99L150.49 551.63L151.49 550.29L152.49 548.97L153.48 547.66L154.48 546.38L155.48 545.11L156.47 543.87L157.47 542.64L158.47 541.43L159.46 540.24L160.46 539.07L161.46 537.91L162.45 536.78L163.45 535.66L164.45 534.57L165.44 533.49L166.44 532.44L167.44 531.40L168.43 530.38L169.43 529.38L170.43 528.40L171.42 527.44L172.42 526.50L173.42 525.58L174.41 524.67L175.41 523.79L176.41 522.93L177.40 522.09L178.40 521.26L179.40 520.46L180.39 519.67L181.39 518.91L182.39 518.16L183.38 517.44L184.38 516.73L185.38 516.05L186.37 515.38L187.37 514.73L188.37 514.10L189.36 513.49L190.36 512.90L191.36 512.32L192.35 511.77L193.35 511.23L194.35 510.72L195.34 510.22L196.34 509.74L197.34 509.27L198.33 508.83L199.33 508.40L200.33 507.99L201.32 507.60L202.32 507.23L203.32 506.88L204.31 506.54L205.31 506.22L206.31 505.92L207.30 505.63L208.30 505.36L209.30 505.11L210.29 504.88L211.29 504.67L212.29 504.47L213.28 504.29L214.28 504.12L215.28 503.97L216.27 503.85L217.27 503.73L218.27 503.64L219.26 503.56L220.26 503.50L221.26 503.46L222.25 503.43L223.25 503.42L224.25 503.43L225.24 503.46L226.24 503.50L227.24 503.56L228.23 503.64L229.23 503.73L230.23 503.84L231.22 503.97L232.22 504.12L233.22 504.28L234.21 504.47L235.21 504.66L236.21 504.88L237.20 505.11L238.20 505.36L239.20 505.63L240.19 505.92L241.19 506.22L242.19 506.54L243.18 506.88L244.18 507.24L245.18 507.62L246.17 508.02L247.17 508.43L248.17 508.87L249.16 509.33L250.16 509.80L251.16 510.30L252.15 510.82L253.15 511.36L254.15 511.92L255.14 512.50L256.14 513.11L257.14 513.73L258.13 514.38L259.13 515.05L260.13 515.75L261.12 516.47L262.12 517.21L263.12 517.97L264.11 518.76L265.11 519.58L266.11 520.42L267.10 521.28L268.10 522.17L269.13 523.12L270.16 524.09L271.19 525.09L272.22 526.11L273.26 527.16L274.29 528.22L275.32 529.31L276.35 530.42L277.38 531.56L278.41 532.70L279.44 533.87L280.47 535.06L281.50 536.26L282.53 537.47L283.57 538.70L284.60 539.94L285.63 541.20L286.66 542.46L287.69 543.74L288.72 545.03L289.75 546.32L290.78 547.62L291.81 548.93L292.84 550.24L293.88 551.56L294.91 552.89L295.94 554.21L296.97 555.54L298.00 556.87" fill="none" stroke="#0000ff" stroke-width="2.1" stroke-linejoin="round"/>
<path d="M88.70 681.70L89.70 680.16L90.69 678.63L91.69 677.09L92.69 675.56L93.68 674.02L94.68 672.49L95.68 670.96L96.67 669.43L97.67 667.90L98.67 666.38L99.66 664.85L100.66 663.33L101.66 661.82L102.65 660.30L103.65 658.80L104.65 657.29L105.64 655.79L106.64 654.29L107.64 652.80L108.63 651.32L109.63 649.83L110.63 648.36L111.62 646.89L112.62 645.42L113.62 643.97L114.61 642.52L115.61 641.07L116.61 639.64L117.60 638.21L118.60 636.78L119.60 635.37L120.59 633.97L121.59 632.57L122.59 631.18L123.58 629.80L124.58 628.43L125.58 627.06L126.57 625.71L127.57 624.36L128.57 623.02L129.56 621.70L130.56 620.38L131.56 619.07L132.55 617.77L133.55 616.48L134.55 615.20L135.54 613.93L136.54 612.67L137.54 611.42L138.53 610.18L139.53 608.95L140.53 607.73L141.52 606.53L142.52 605.33L143.52 604.14L144.51 602.97L145.51 601.80L146.51 600.65L147.50 599.51L148.50 598.38L149.50 597.26L150.49 596.15L151.49 595.06L152.49 593.98L153.48 592.90L154.48 591.84L155.48 590.79L156.47 589.76L157.47 588.73L158.47 587.72L159.46 586.71L160.46 585.72L161.46 584.74L162.45 583.77L163.45 582.82L164.45 581.87L165.44 580.93L166.44 580.01L167.44 579.10L168.43 578.20L169.43 577.30L170.43 576.43L171.42 575.56L172.42 574.70L173.42 573.85L174.41 573.02L175.41 572.20L176.41 571.38L177.40 570.58L178.40 569.79L179.40 569.01L180.39 568.24L181.39 567.48L182.39 566.74L183.38 566.00L184.38 565.28L185.38 564.56L186.37 563.86L187.37 563.17L188.37 562.49L189.36 561.83L190.36 561.17L191.36 560.53L192.35 559.90L193.35 559.28L194.35 558.67L195.34 558.08L196.34 557.49L197.34 556.92L198.33 556.36L199.33 555.82L200.33 555.28L201.32 554.76L202.32 554.25L203.32 553.76L204.31 553.27L205.31 552.80L206.31 552.35L207.30 551.90L208.30 551.47L209.30 551.05L210.29 550.65L211.29 550.25L212.29 549.88L213.28 549.51L214.28 549.16L215.28 548.82L216.27 548.49L217.27 548.17L218.27 547.87L219.26 547.58L220.26 547.31L221.26 547.04L222.25 546.79L223.25 546.55L224.25 546.33L225.24 546.11L226.24 545.91L227.24 545.73L228.23 545.55L229.23 545.39L230.23 545.24L231.22 545.10L232.22 544.98L233.22 544.86L234.21 544.76L235.21 544.67L236.21 544.60L237.20 544.53L238.20 544.48L239.20 544.44L240.19 544.41L241.19 544.40L242.19 544.40L243.18 544.40L244.18 544.42L245.18 544.45L246.17 544.50L247.17 544.55L248.17 544.62L249.16 544.70L250.16 544.78L251.16 544.88L252.15 544.99L253.15 545.11L254.15 545.25L255.14 545.39L256.14 545.54L257.14 545.70L258.13 545.88L259.13 546.06L260.13 546.26L261.12 546.46L262.12 546.68L263.12 546.90L264.11 547.13L265.11 547.38L266.11 547.63L267.10 547.89L268.10 548.17L269.10 548.45L270.09 548.74L271.09 549.04L272.09 549.35L273.08 549.67L274.08 550.00L275.08 550.34L276.07 550.70L277.07 551.06L278.07 551.44L279.06 551.82L280.06 552.22L281.06 552.63L282.05 553.06L283.05 553.49L284.05 553.94L285.04 554.40L286.04 554.87L287.04 555.36L288.03 555.86L289.03 556.38L290.03 556.91L291.02 557.45L292.02 558.01L293.02 558.58L294.01 559.16L295.01 559.77L296.01 560.38L297.00 561.02L298.00 561.66L299.03 562.35L300.06 563.06L301.09 563.78L302.12 564.51L303.16 565.26L304.19 566.03L305.22 566.81L306.25 567.60L307.28 568.40L308.31 569.22L309.34 570.04L310.37 570.88L311.40 571.73L312.43 572.58L313.47 573.45L314.50 574.32L315.53 575.20L316.56 576.09L317.59 576.99L318.62 577.89L319.65 578.80L320.68 579.71L321.71 580.62L322.74 581.54L323.78 582.46L324.81 583.39L325.84 584.31L326.87 585.24L327.90 586.17" fill="none" stroke="#ff00ff" stroke-width="2.1" stroke-linejoin="round"/>
<path d="M88.70 697.60L89.70 696.66L90.69 695.71L91.69 694.77L92.69 693.83L93.68 692.89L94.68 691.95L95.68 691.01L96.67 690.07L97.67 689.12L98.67 688.18L99.66 687.24L100.66 686.30L101.66 685.36L102.65 684.42L103.65 683.48L104.65 682.54L105.64 681.60L106.64 680.66L107.64 679.72L108.63 678.78L109.63 677.84L110.63 676.90L111.62 675.96L112.62 675.02L113.62 674.08L114.61 673.14L115.61 672.20L116.61 671.26L117.60 670.32L118.60 669.39L119.60 668.45L120.59 667.51L121.59 666.57L122.59 665.64L123.58 664.71L124.58 663.78L125.58 662.85L126.57 661.92L127.57 661.00L128.57 660.08L129.56 659.16L130.56 658.25L131.56 657.34L132.55 656.43L133.55 655.54L134.55 654.64L135.54 653.76L136.54 652.87L137.54 652.00L138.53 651.13L139.53 650.27L140.53 649.42L141.52 648.57L142.52 647.73L143.52 646.90L144.51 646.08L145.51 645.27L146.51 644.47L147.50 643.67L148.50 642.89L149.50 642.12L150.49 641.36L151.49 640.61L152.49 639.86L153.48 639.13L154.48 638.41L155.48 637.70L156.47 637.00L157.47 636.30L158.47 635.62L159.46 634.95L160.46 634.28L161.46 633.62L162.45 632.97L163.45 632.34L164.45 631.70L165.44 631.08L166.44 630.47L167.44 629.86L168.43 629.26L169.43 628.67L170.43 628.09L171.42 627.51L172.42 626.95L173.42 626.39L174.41 625.83L175.41 625.29L176.41 624.75L177.40 624.21L178.40 623.69L179.40 623.17L180.39 622.66L181.39 622.15L182.39 621.65L183.38 621.16L184.38 620.67L185.38 620.19L186.37 619.72L187.37 619.25L188.37 618.79L189.36 618.34L190.36 617.89L191.36 617.45L192.35 617.02L193.35 616.60L194.35 616.18L195.34 615.77L196.34 615.36L197.34 614.97L198.33 614.58L199.33 614.19L200.33 613.82L201.32 613.45L202.32 613.09L203.32 612.73L204.31 612.39L205.31 612.05L206.31 611.71L207.30 611.39L208.30 611.07L209.30 610.76L210.29 610.46L211.29 610.16L212.29 609.88L213.28 609.60L214.28 609.33L215.28 609.06L216.27 608.81L217.27 608.56L218.27 608.32L219.26 608.09L220.26 607.86L221.26 607.65L222.25 607.44L223.25 607.24L224.25 607.05L225.24 606.87L226.24 606.69L227.24 606.53L228.23 606.37L229.23 606.22L230.23 606.08L231.22 605.95L232.22 605.83L233.22 605.72L234.21 605.62L235.21 605.52L236.21 605.44L237.20 605.36L238.20 605.29L239.20 605.24L240.19 605.19L241.19 605.15L242.19 605.12L243.18 605.10L244.18 605.09L245.18 605.08L246.17 605.09L247.17 605.11L248.17 605.13L249.16 605.16L250.16 605.20L251.16 605.26L252.15 605.31L253.15 605.38L254.15 605.46L255.14 605.54L256.14 605.64L257.14 605.74L258.13 605.85L259.13 605.96L260.13 606.09L261.12 606.22L262.12 606.37L263.12 606.52L264.11 606.68L265.11 606.84L266.11 607.02L267.10 607.20L268.10 607.39L269.10 607.59L270.09 607.79L271.09 608.00L272.09 608.22L273.08 608.45L274.08 608.69L275.08 608.93L276.07 609.19L277.07 609.45L278.07 609.71L279.06 609.99L280.06 610.27L281.06 610.57L282.05 610.87L283.05 611.17L284.05 611.49L285.04 611.81L286.04 612.15L287.04 612.49L288.03 612.83L289.03 613.19L290.03 613.56L291.02 613.93L292.02 614.31L293.02 614.70L294.01 615.10L295.01 615.51L296.01 615.92L297.00 616.34L298.00 616.77L299.00 617.21L299.99 617.66L300.99 618.12L301.99 618.58L302.98 619.06L303.98 619.54L304.98 620.03L305.97 620.53L306.97 621.03L307.97 621.55L308.96 622.07L309.96 622.60L310.96 623.14L311.95 623.69L312.95 624.24L313.95 624.80L314.94 625.37L315.94 625.95L316.94 626.54L317.93 627.13L318.93 627.73L319.93 628.34L320.92 628.95L321.92 629.58L322.92 630.21L323.91 630.85L324.91 631.50L325.91 632.15L326.90 632.81L327.90 633.48L328.90 634.16L329.89 634.84L330.89 635.53L331.89 636.23L332.88 636.93L333.88 637.65L334.88 638.37L335.87 639.10L336.87 639.83L337.87 640.58L338.86 641.33L339.86 642.09L340.86 642.86L341.85 643.64L342.85 644.42L343.85 645.21L344.84 646.01L345.84 646.82L346.84 647.64L347.83 648.47L348.83 649.30L349.83 650.14L350.82 651.00L351.82 651.86L352.82 652.72L353.81 653.60L354.81 654.49L355.81 655.38L356.80 656.29L357.80 657.20L358.83 658.15L359.86 659.11L360.89 660.09L361.92 661.07L362.96 662.06L363.99 663.05L365.02 664.06L366.05 665.07L367.08 666.09L368.11 667.11L369.14 668.14L370.17 669.18L371.20 670.22L372.23 671.27L373.27 672.32L374.30 673.38L375.33 674.44L376.36 675.51L377.39 676.58L378.42 677.65L379.45 678.73L380.48 679.81L381.51 680.89L382.54 681.97L383.58 683.05L384.61 684.14L385.64 685.23L386.67 686.31L387.70 687.40" fill="none" stroke="#008000" stroke-width="2.1" stroke-linejoin="round"/>
<circle cx="88.70" cy="626.19" r="3.60" fill="none" stroke="#000000" stroke-width="2.25"/>
<circle cx="118.60" cy="554.27" r="3.60" fill="none" stroke="#000000" stroke-width="2.25"/>
<circle cx="148.50" cy="533.88" r="3.60" fill="none" stroke="#000000" stroke-width="2.25"/>
<circle cx="178.40" cy="571.48" r="3.60" fill="none" stroke="#000000" stroke-width="2.25"/>
<path d="M88.70 640.30L92.65 647.25L84.75 647.25Z" fill="none" stroke="#ff0000" stroke-width="2.09" stroke-linejoin="miter"/>
<path d="M118.60 564.78L122.55 571.73L114.65 571.73Z" fill="none" stroke="#ff0000" stroke-width="2.09" stroke-linejoin="miter"/>
<path d="M148.50 512.97L152.45 519.92L144.55 519.92Z" fill="none" stroke="#ff0000" stroke-width="2.09" stroke-linejoin="miter"/>
<path d="M178.40 488.87L182.35 495.82L174.45 495.82Z" fill="none" stroke="#ff0000" stroke-width="2.09" stroke-linejoin="miter"/>
<path d="M208.30 494.17L212.25 501.12L204.35 501.12Z" fill="none" stroke="#ff0000" stroke-width="2.09" stroke-linejoin="miter"/>
<path d="M238.20 530.48L242.15 537.43L234.25 537.43Z" fill="none" stroke="#ff0000" stroke-width="2.09" stroke-linejoin="miter"/>
<path d="M88.70 669.29L92.65 662.34L84.75 662.34Z" fill="none" stroke="#0000ff" stroke-width="2.09" stroke-linejoin="miter"/>
<path d="M118.60 608.07L122.55 601.12L114.65 601.12Z" fill="none" stroke="#0000ff" stroke-width="2.09" stroke-linejoin="miter"/>
<path d="M148.50 558.67L152.45 551.72L144.55 551.72Z" fill="none" stroke="#0000ff" stroke-width="2.09" stroke-linejoin="miter"/>
<path d="M178.40 525.56L182.35 518.61L174.45 518.61Z" fill="none" stroke="#0000ff" stroke-width="2.09" stroke-linejoin="miter"/>
<path d="M208.30 509.66L212.25 502.71L204.35 502.71Z" fill="none" stroke="#0000ff" stroke-width="2.09" stroke-linejoin="miter"/>
<path d="M238.20 509.66L242.15 502.71L234.25 502.71Z" fill="none" stroke="#0000ff" stroke-width="2.09" stroke-linejoin="miter"/>
<path d="M268.10 526.47L272.05 519.52L264.15 519.52Z" fill="none" stroke="#0000ff" stroke-width="2.09" stroke-linejoin="miter"/>
<path d="M298.00 561.17L301.95 554.22L294.05 554.22Z" fill="none" stroke="#0000ff" stroke-width="2.09" stroke-linejoin="miter"/>
<rect x="85.30" y="678.30" width="6.80" height="6.80" fill="none" stroke="#ff00ff" stroke-width="2.25"/>
<rect x="115.20" y="633.38" width="6.80" height="6.80" fill="none" stroke="#ff00ff" stroke-width="2.25"/>
<rect x="145.10" y="594.98" width="6.80" height="6.80" fill="none" stroke="#ff00ff" stroke-width="2.25"/>
<rect x="175.00" y="566.39" width="6.80" height="6.80" fill="none" stroke="#ff00ff" stroke-width="2.25"/>
<rect x="204.90" y="548.07" width="6.80" height="6.80" fill="none" stroke="#ff00ff" stroke-width="2.25"/>
<rect x="234.80" y="541.08" width="6.80" height="6.80" fill="none" stroke="#ff00ff" stroke-width="2.25"/>
<rect x="264.70" y="544.77" width="6.80" height="6.80" fill="none" stroke="#ff00ff" stroke-width="2.25"/>
<rect x="294.60" y="558.26" width="6.80" height="6.80" fill="none" stroke="#ff00ff" stroke-width="2.25"/>
<rect x="324.50" y="582.77" width="6.80" height="6.80" fill="none" stroke="#ff00ff" stroke-width="2.25"/>
<path d="M88.70 692.85L93.45 697.60L88.70 702.35L83.95 697.60Z" fill="none" stroke="#008000" stroke-width="2.25"/>
<path d="M118.60 664.64L123.35 669.39L118.60 674.14L113.85 669.39Z" fill="none" stroke="#008000" stroke-width="2.25"/>
<path d="M148.50 638.14L153.25 642.89L148.50 647.64L143.75 642.89Z" fill="none" stroke="#008000" stroke-width="2.25"/>
<path d="M178.40 618.94L183.15 623.69L178.40 628.44L173.65 623.69Z" fill="none" stroke="#008000" stroke-width="2.25"/>
<path d="M208.30 606.32L213.05 611.07L208.30 615.82L203.55 611.07Z" fill="none" stroke="#008000" stroke-width="2.25"/>
<path d="M238.20 600.54L242.95 605.29L238.20 610.04L233.45 605.29Z" fill="none" stroke="#008000" stroke-width="2.25"/>
<path d="M268.10 602.64L272.85 607.39L268.10 612.14L263.35 607.39Z" fill="none" stroke="#008000" stroke-width="2.25"/>
<path d="M298.00 612.02L302.75 616.77L298.00 621.52L293.25 616.77Z" fill="none" stroke="#008000" stroke-width="2.25"/>
<path d="M327.90 628.73L332.65 633.48L327.90 638.23L323.15 633.48Z" fill="none" stroke="#008000" stroke-width="2.25"/>
<path d="M357.80 652.45L362.55 657.20L357.80 661.95L353.05 657.20Z" fill="none" stroke="#008000" stroke-width="2.25"/>
<path d="M387.70 682.65L392.45 687.40L387.70 692.15L382.95 687.40Z" fill="none" stroke="#008000" stroke-width="2.25"/>
<rect x="58.8" y="449.2" width="418.60" height="302.80" fill="none" stroke="#333" stroke-width="1.7"/>
<line x1="58.80" y1="752.0" x2="58.80" y2="756.8" stroke="#333" stroke-width="1.6"/>
<text x="58.80" y="782.9" font-family="'Liberation Sans', Arial, sans-serif" font-size="18" text-anchor="middle">0.0</text>
<line x1="118.60" y1="752.0" x2="118.60" y2="756.8" stroke="#333" stroke-width="1.6"/>
<text x="118.60" y="782.9" font-family="'Liberation Sans', Arial, sans-serif" font-size="18" text-anchor="middle">0.2</text>
<line x1="178.40" y1="752.0" x2="178.40" y2="756.8" stroke="#333" stroke-width="1.6"/>
<text x="178.40" y="782.9" font-family="'Liberation Sans', Arial, sans-serif" font-size="18" text-anchor="middle">0.4</text>
<line x1="238.20" y1="752.0" x2="238.20" y2="756.8" stroke="#333" stroke-width="1.6"/>
<text x="238.20" y="782.9" font-family="'Liberation Sans', Arial, sans-serif" font-size="18" text-anchor="middle">0.6</text>
<line x1="298.00" y1="752.0" x2="298.00" y2="756.8" stroke="#333" stroke-width="1.6"/>
<text x="298.00" y="782.9" font-family="'Liberation Sans', Arial, sans-serif" font-size="18" text-anchor="middle">0.8</text>
<line x1="357.80" y1="752.0" x2="357.80" y2="756.8" stroke="#333" stroke-width="1.6"/>
<text x="357.80" y="782.9" font-family="'Liberation Sans', Arial, sans-serif" font-size="18" text-anchor="middle">1.0</text>
<line x1="417.60" y1="752.0" x2="417.60" y2="756.8" stroke="#333" stroke-width="1.6"/>
<text x="417.60" y="782.9" font-family="'Liberation Sans', Arial, sans-serif" font-size="18" text-anchor="middle">1.2</text>
<line x1="477.40" y1="752.0" x2="477.40" y2="756.8" stroke="#333" stroke-width="1.6"/>
<text x="477.40" y="782.9" font-family="'Liberation Sans', Arial, sans-serif" font-size="18" text-anchor="middle">1.4</text>
<line x1="54.0" y1="752.00" x2="58.8" y2="752.00" stroke="#333" stroke-width="1.6"/>
<text x="44.4" y="758.44" font-family="'Liberation Sans', Arial, sans-serif" font-size="18" text-anchor="end">-6</text>
<line x1="54.0" y1="701.53" x2="58.8" y2="701.53" stroke="#333" stroke-width="1.6"/>
<text x="44.4" y="707.98" font-family="'Liberation Sans', Arial, sans-serif" font-size="18" text-anchor="end">-4</text>
<line x1="54.0" y1="651.07" x2="58.8" y2="651.07" stroke="#333" stroke-width="1.6"/>
<text x="44.4" y="657.51" font-family="'Liberation Sans', Arial, sans-serif" font-size="18" text-anchor="end">-2</text>
<line x1="54.0" y1="600.60" x2="58.8" y2="600.60" stroke="#333" stroke-width="1.6"/>
<text x="44.4" y="607.04" font-family="'Liberation Sans', Arial, sans-serif" font-size="18" text-anchor="end">0</text>
<line x1="54.0" y1="550.13" x2="58.8" y2="550.13" stroke="#333" stroke-width="1.6"/>
<text x="44.4" y="556.58" font-family="'Liberation Sans', Arial, sans-serif" font-size="18" text-anchor="end">2</text>
<line x1="54.0" y1="499.67" x2="58.8" y2="499.67" stroke="#333" stroke-width="1.6"/>
<text x="44.4" y="506.11" font-family="'Liberation Sans', Arial, sans-serif" font-size="18" text-anchor="end">4</text>
<line x1="54.0" y1="449.20" x2="58.8" y2="449.20" stroke="#333" stroke-width="1.6"/>
<text x="44.4" y="455.64" font-family="'Liberation Sans', Arial, sans-serif" font-size="18" text-anchor="end">6</text>
<text x="267.2" y="429.4" font-family="'Liberation Serif', 'Times New Roman', serif" font-weight="bold" font-size="28" text-anchor="middle">s = 8 <tspan font-weight="normal" stroke="#000" stroke-width="0.5">μ</tspan><tspan dx="0.8">m</tspan></text>
<text x="267.7" y="810.8" font-family="'Liberation Serif', 'Times New Roman', serif" font-weight="bold" font-size="23.65" text-anchor="middle">Gap (<tspan dx="0.6" font-weight="normal" stroke="#000" stroke-width="0.5">μ</tspan><tspan dx="0.8">m)</tspan></text>
<text transform="translate(23.6 599.9) rotate(-90)" x="0" y="0" font-family="'Liberation Serif', 'Times New Roman', serif" font-weight="bold" font-size="23.65" text-anchor="middle">Deviation (%)</text>
<text x="4.8" y="434.0" font-family="'Liberation Sans', Arial, sans-serif" font-size="26">(c)</text>
<rect x="340.25" y="458.1" width="128.45" height="140.10" fill="#fff" stroke="#333" stroke-width="1.3"/>
<line x1="347.9" y1="477.8" x2="392.3" y2="477.8" stroke="#000000" stroke-width="2.1"/>
<circle cx="369.80" cy="477.80" r="3.60" fill="none" stroke="#000000" stroke-width="2.25"/>
<text transform="translate(400.90 485.20) scale(1.28 1)" font-family="'Liberation Serif', 'Times New Roman', serif" font-size="18.8">μ</text>
<text x="416.90" y="485.20" font-family="'Liberation Sans', Arial, sans-serif" font-size="18.8">= 0.7</text>
<line x1="347.9" y1="503.0" x2="392.3" y2="503.0" stroke="#ff0000" stroke-width="2.1"/>
<path d="M369.80 498.70L373.75 505.65L365.85 505.65Z" fill="none" stroke="#ff0000" stroke-width="2.09" stroke-linejoin="miter"/>
<text transform="translate(400.90 510.40) scale(1.28 1)" font-family="'Liberation Serif', 'Times New Roman', serif" font-size="18.8">μ</text>
<text x="416.90" y="510.40" font-family="'Liberation Sans', Arial, sans-serif" font-size="18.8">= 0.6</text>
<line x1="347.9" y1="527.9" x2="392.3" y2="527.9" stroke="#0000ff" stroke-width="2.1"/>
<path d="M369.80 532.20L373.75 525.25L365.85 525.25Z" fill="none" stroke="#0000ff" stroke-width="2.09" stroke-linejoin="miter"/>
<text transform="translate(400.90 535.30) scale(1.28 1)" font-family="'Liberation Serif', 'Times New Roman', serif" font-size="18.8">μ</text>
<text x="416.90" y="535.30" font-family="'Liberation Sans', Arial, sans-serif" font-size="18.8">= 0.5</text>
<line x1="347.9" y1="553.0" x2="392.3" y2="553.0" stroke="#ff00ff" stroke-width="2.1"/>
<rect x="366.40" y="549.60" width="6.80" height="6.80" fill="none" stroke="#ff00ff" stroke-width="2.25"/>
<text transform="translate(400.90 560.40) scale(1.28 1)" font-family="'Liberation Serif', 'Times New Roman', serif" font-size="18.8">μ</text>
<text x="416.90" y="560.40" font-family="'Liberation Sans', Arial, sans-serif" font-size="18.8">= 0.4</text>
<line x1="347.9" y1="577.7" x2="392.3" y2="577.7" stroke="#008000" stroke-width="2.1"/>
<path d="M369.80 572.95L374.55 577.70L369.80 582.45L365.05 577.70Z" fill="none" stroke="#008000" stroke-width="2.25"/>
<text transform="translate(400.90 585.10) scale(1.28 1)" font-family="'Liberation Serif', 'Times New Roman', serif" font-size="18.8">μ</text>
<text x="416.90" y="585.10" font-family="'Liberation Sans', Arial, sans-serif" font-size="18.8">= 0.3</text>
<path d="M610.00 646.20L610.87 643.57L611.73 640.94L612.60 638.31L613.47 635.69L614.33 633.07L615.20 630.45L616.07 627.85L616.93 625.26L617.80 622.67L618.67 620.10L619.53 617.54L620.40 614.99L621.27 612.46L622.13 609.95L623.00 607.45L623.87 604.98L624.73 602.52L625.60 600.09L626.47 597.68L627.33 595.29L628.20 592.93L629.07 590.60L629.93 588.30L630.80 586.02L631.67 583.78L632.53 581.57L633.40 579.39L634.27 577.25L635.13 575.14L636.00 573.08L636.87 571.05L637.73 569.06L638.60 567.10L639.47 565.19L640.33 563.32L641.20 561.48L642.07 559.68L642.93 557.92L643.80 556.20L644.67 554.52L645.53 552.88L646.40 551.27L647.27 549.70L648.13 548.17L649.00 546.68L649.87 545.22L650.73 543.80L651.60 542.42L652.47 541.08L653.33 539.78L654.20 538.51L655.07 537.28L655.93 536.09L656.80 534.93L657.67 533.81L658.53 532.73L659.40 531.69L660.27 530.68L661.13 529.71L662.00 528.78L662.87 527.88L663.73 527.02L664.60 526.20L665.47 525.41L666.33 524.66L667.20 523.95L668.07 523.27L668.93 522.64L669.80 522.04L670.67 521.47L671.53 520.95L672.40 520.46L673.27 520.01L674.13 519.60L675.00 519.22L675.87 518.88L676.73 518.59L677.60 518.32L678.47 518.10L679.33 517.92L680.20 517.77L681.07 517.66L681.93 517.59L682.80 517.56L683.67 517.57L684.53 517.61L685.40 517.70L686.27 517.82L687.13 517.98L688.00 518.19L688.87 518.43L689.73 518.71L690.60 519.02L691.47 519.38L692.33 519.78L693.20 520.22L694.07 520.70L694.93 521.23L695.80 521.79L696.67 522.40L697.53 523.04L698.40 523.73L699.27 524.47L700.13 525.24L701.00 526.06L701.87 526.93L702.73 527.83L703.60 528.78L704.47 529.78L705.33 530.82L706.20 531.91L707.07 533.04L707.93 534.22L708.80 535.44L709.67 536.71L710.53 538.03L711.40 539.40L712.27 540.81L713.13 542.27L714.00 543.78L714.90 545.39L715.79 547.05L716.69 548.76L717.59 550.51L718.48 552.31L719.38 554.16L720.28 556.04L721.17 557.97L722.07 559.93L722.97 561.92L723.86 563.95L724.76 566.02L725.66 568.11L726.55 570.23L727.45 572.38L728.34 574.56L729.24 576.75L730.14 578.97L731.03 581.21L731.93 583.47L732.83 585.74L733.72 588.02L734.62 590.32L735.52 592.63L736.41 594.95L737.31 597.28L738.21 599.61L739.10 601.94L740.00 604.28" fill="none" stroke="#000000" stroke-width="2.1" stroke-linejoin="round"/>
<path d="M610.00 665.00L610.87 662.85L611.73 660.70L612.60 658.54L613.47 656.39L614.33 654.24L615.20 652.10L616.07 649.95L616.93 647.81L617.80 645.67L618.67 643.54L619.53 641.41L620.40 639.29L621.27 637.17L622.13 635.06L623.00 632.95L623.87 630.85L624.73 628.76L625.60 626.67L626.47 624.59L627.33 622.52L628.20 620.46L629.07 618.41L629.93 616.37L630.80 614.34L631.67 612.32L632.53 610.31L633.40 608.32L634.27 606.33L635.13 604.36L636.00 602.40L636.87 600.45L637.73 598.52L638.60 596.60L639.47 594.69L640.33 592.80L641.20 590.93L642.07 589.06L642.93 587.21L643.80 585.38L644.67 583.56L645.53 581.75L646.40 579.96L647.27 578.18L648.13 576.42L649.00 574.68L649.87 572.95L650.73 571.23L651.60 569.53L652.47 567.85L653.33 566.18L654.20 564.52L655.07 562.89L655.93 561.27L656.80 559.66L657.67 558.08L658.53 556.50L659.40 554.95L660.27 553.41L661.13 551.89L662.00 550.39L662.87 548.90L663.73 547.43L664.60 545.98L665.47 544.54L666.33 543.13L667.20 541.73L668.07 540.35L668.93 538.98L669.80 537.64L670.67 536.31L671.53 535.00L672.40 533.71L673.27 532.44L674.13 531.19L675.00 529.95L675.87 528.74L676.73 527.54L677.60 526.37L678.47 525.21L679.33 524.07L680.20 522.95L681.07 521.85L681.93 520.77L682.80 519.71L683.67 518.67L684.53 517.65L685.40 516.65L686.27 515.67L687.13 514.71L688.00 513.78L688.87 512.86L689.73 511.96L690.60 511.09L691.47 510.23L692.33 509.40L693.20 508.58L694.07 507.79L694.93 507.01L695.80 506.26L696.67 505.53L697.53 504.82L698.40 504.13L699.27 503.46L700.13 502.81L701.00 502.18L701.87 501.57L702.73 500.98L703.60 500.41L704.47 499.86L705.33 499.33L706.20 498.83L707.07 498.34L707.93 497.87L708.80 497.42L709.67 497.00L710.53 496.59L711.40 496.21L712.27 495.84L713.13 495.50L714.00 495.17L714.87 494.87L715.73 494.58L716.60 494.32L717.47 494.07L718.33 493.84L719.20 493.64L720.07 493.45L720.93 493.29L721.80 493.14L722.67 493.01L723.53 492.90L724.40 492.81L725.27 492.74L726.13 492.68L727.00 492.65L727.87 492.63L728.73 492.64L729.60 492.66L730.47 492.70L731.33 492.75L732.20 492.83L733.07 492.92L733.93 493.03L734.80 493.16L735.67 493.31L736.53 493.47L737.40 493.65L738.27 493.85L739.13 494.06L740.00 494.29L740.87 494.54L741.73 494.81L742.60 495.09L743.47 495.39L744.33 495.71L745.20 496.05L746.07 496.41L746.93 496.78L747.80 497.18L748.67 497.59L749.53 498.03L750.40 498.48L751.27 498.96L752.13 499.46L753.00 499.98L753.87 500.52L754.73 501.08L755.60 501.67L756.47 502.27L757.33 502.91L758.20 503.56L759.07 504.24L759.93 504.94L760.80 505.67L761.67 506.42L762.53 507.20L763.40 508.00L764.27 508.83L765.13 509.69L766.00 510.57L766.90 511.51L767.79 512.48L768.69 513.47L769.59 514.49L770.48 515.54L771.38 516.61L772.28 517.70L773.17 518.81L774.07 519.95L774.97 521.10L775.86 522.28L776.76 523.47L777.66 524.67L778.55 525.90L779.45 527.14L780.34 528.39L781.24 529.65L782.14 530.93L783.03 532.22L783.93 533.52L784.83 534.82L785.72 536.14L786.62 537.46L787.52 538.79L788.41 540.12L789.31 541.46L790.21 542.80L791.10 544.14L792.00 545.48" fill="none" stroke="#ff0000" stroke-width="2.1" stroke-linejoin="round"/>
<path d="M610.00 683.28L610.87 681.70L611.73 680.12L612.60 678.54L613.47 676.97L614.33 675.39L615.20 673.81L616.07 672.23L616.93 670.66L617.80 669.08L618.67 667.51L619.53 665.93L620.40 664.36L621.27 662.79L622.13 661.23L623.00 659.66L623.87 658.10L624.73 656.53L625.60 654.97L626.47 653.42L627.33 651.86L628.20 650.31L629.07 648.76L629.93 647.21L630.80 645.67L631.67 644.13L632.53 642.59L633.40 641.06L634.27 639.53L635.13 638.00L636.00 636.48L636.87 634.96L637.73 633.45L638.60 631.94L639.47 630.43L640.33 628.93L641.20 627.44L642.07 625.95L642.93 624.47L643.80 622.99L644.67 621.52L645.53 620.06L646.40 618.60L647.27 617.15L648.13 615.71L649.00 614.27L649.87 612.85L650.73 611.43L651.60 610.02L652.47 608.62L653.33 607.23L654.20 605.85L655.07 604.48L655.93 603.12L656.80 601.76L657.67 600.42L658.53 599.09L659.40 597.77L660.27 596.47L661.13 595.17L662.00 593.89L662.87 592.61L663.73 591.35L664.60 590.11L665.47 588.87L666.33 587.64L667.20 586.43L668.07 585.23L668.93 584.04L669.80 582.86L670.67 581.70L671.53 580.54L672.40 579.40L673.27 578.26L674.13 577.14L675.00 576.03L675.87 574.93L676.73 573.84L677.60 572.76L678.47 571.69L679.33 570.63L680.20 569.58L681.07 568.54L681.93 567.51L682.80 566.49L683.67 565.48L684.53 564.48L685.40 563.49L686.27 562.51L687.13 561.54L688.00 560.58L688.87 559.63L689.73 558.68L690.60 557.75L691.47 556.83L692.33 555.91L693.20 555.01L694.07 554.11L694.93 553.23L695.80 552.36L696.67 551.49L697.53 550.64L698.40 549.80L699.27 548.97L700.13 548.15L701.00 547.34L701.87 546.54L702.73 545.75L703.60 544.97L704.47 544.21L705.33 543.45L706.20 542.71L707.07 541.98L707.93 541.27L708.80 540.56L709.67 539.87L710.53 539.19L711.40 538.52L712.27 537.86L713.13 537.22L714.00 536.59L714.87 535.97L715.73 535.37L716.60 534.78L717.47 534.20L718.33 533.63L719.20 533.07L720.07 532.53L720.93 532.00L721.80 531.48L722.67 530.97L723.53 530.47L724.40 529.98L725.27 529.50L726.13 529.04L727.00 528.58L727.87 528.13L728.73 527.70L729.60 527.27L730.47 526.85L731.33 526.44L732.20 526.04L733.07 525.65L733.93 525.26L734.80 524.89L735.67 524.52L736.53 524.16L737.40 523.81L738.27 523.46L739.13 523.12L740.00 522.79L740.87 522.47L741.73 522.15L742.60 521.84L743.47 521.54L744.33 521.25L745.20 520.96L746.07 520.68L746.93 520.42L747.80 520.16L748.67 519.91L749.53 519.67L750.40 519.44L751.27 519.23L752.13 519.02L753.00 518.83L753.87 518.64L754.73 518.47L755.60 518.31L756.47 518.17L757.33 518.03L758.20 517.91L759.07 517.81L759.93 517.71L760.80 517.63L761.67 517.57L762.53 517.52L763.40 517.49L764.27 517.47L765.13 517.47L766.00 517.48L766.87 517.51L767.73 517.56L768.60 517.62L769.47 517.70L770.33 517.80L771.20 517.90L772.07 518.03L772.93 518.16L773.80 518.31L774.67 518.48L775.53 518.65L776.40 518.84L777.27 519.04L778.13 519.26L779.00 519.48L779.87 519.72L780.73 519.96L781.60 520.22L782.47 520.49L783.33 520.77L784.20 521.05L785.07 521.35L785.93 521.65L786.80 521.96L787.67 522.29L788.53 522.61L789.40 522.95L790.27 523.29L791.13 523.64L792.00 523.99L792.87 524.35L793.73 524.72L794.60 525.10L795.47 525.48L796.33 525.86L797.20 526.26L798.07 526.66L798.93 527.07L799.80 527.49L800.67 527.92L801.53 528.36L802.40 528.81L803.27 529.27L804.13 529.74L805.00 530.22L805.87 530.71L806.73 531.21L807.60 531.73L808.47 532.26L809.33 532.80L810.20 533.35L811.07 533.92L811.93 534.50L812.80 535.10L813.67 535.71L814.53 536.33L815.40 536.98L816.27 537.63L817.13 538.30L818.00 538.99L818.90 539.72L819.79 540.47L820.69 541.24L821.59 542.02L822.48 542.82L823.38 543.63L824.28 544.45L825.17 545.29L826.07 546.15L826.97 547.01L827.86 547.89L828.76 548.78L829.66 549.67L830.55 550.58L831.45 551.50L832.34 552.43L833.24 553.36L834.14 554.31L835.03 555.26L835.93 556.21L836.83 557.17L837.72 558.14L838.62 559.11L839.52 560.08L840.41 561.06L841.31 562.04L842.21 563.02L843.10 564.00L844.00 564.99" fill="none" stroke="#0000ff" stroke-width="2.1" stroke-linejoin="round"/>
<path d="M610.00 697.41L610.87 696.35L611.73 695.28L612.60 694.22L613.47 693.16L614.33 692.10L615.20 691.04L616.07 689.98L616.93 688.91L617.80 687.85L618.67 686.79L619.53 685.73L620.40 684.67L621.27 683.61L622.13 682.56L623.00 681.50L623.87 680.44L624.73 679.38L625.60 678.33L626.47 677.27L627.33 676.21L628.20 675.16L629.07 674.11L629.93 673.05L630.80 672.00L631.67 670.95L632.53 669.90L633.40 668.85L634.27 667.80L635.13 666.75L636.00 665.71L636.87 664.66L637.73 663.62L638.60 662.57L639.47 661.53L640.33 660.49L641.20 659.45L642.07 658.42L642.93 657.39L643.80 656.36L644.67 655.33L645.53 654.30L646.40 653.28L647.27 652.26L648.13 651.24L649.00 650.23L649.87 649.22L650.73 648.22L651.60 647.22L652.47 646.22L653.33 645.23L654.20 644.24L655.07 643.26L655.93 642.28L656.80 641.30L657.67 640.34L658.53 639.37L659.40 638.42L660.27 637.47L661.13 636.52L662.00 635.58L662.87 634.65L663.73 633.72L664.60 632.80L665.47 631.89L666.33 630.98L667.20 630.08L668.07 629.18L668.93 628.29L669.80 627.41L670.67 626.53L671.53 625.66L672.40 624.80L673.27 623.94L674.13 623.09L675.00 622.25L675.87 621.41L676.73 620.58L677.60 619.76L678.47 618.94L679.33 618.13L680.20 617.33L681.07 616.53L681.93 615.74L682.80 614.95L683.67 614.17L684.53 613.40L685.40 612.64L686.27 611.88L687.13 611.13L688.00 610.39L688.87 609.65L689.73 608.92L690.60 608.20L691.47 607.48L692.33 606.77L693.20 606.07L694.07 605.37L694.93 604.69L695.80 604.00L696.67 603.33L697.53 602.66L698.40 602.00L699.27 601.34L700.13 600.70L701.00 600.06L701.87 599.42L702.73 598.80L703.60 598.18L704.47 597.56L705.33 596.96L706.20 596.36L707.07 595.77L707.93 595.18L708.80 594.60L709.67 594.03L710.53 593.47L711.40 592.91L712.27 592.36L713.13 591.82L714.00 591.28L714.87 590.75L715.73 590.23L716.60 589.72L717.47 589.21L718.33 588.71L719.20 588.21L720.07 587.72L720.93 587.24L721.80 586.77L722.67 586.30L723.53 585.84L724.40 585.39L725.27 584.94L726.13 584.50L727.00 584.06L727.87 583.63L728.73 583.21L729.60 582.80L730.47 582.39L731.33 581.98L732.20 581.59L733.07 581.20L733.93 580.81L734.80 580.43L735.67 580.06L736.53 579.69L737.40 579.33L738.27 578.98L739.13 578.63L740.00 578.29L740.87 577.95L741.73 577.62L742.60 577.29L743.47 576.97L744.33 576.66L745.20 576.35L746.07 576.05L746.93 575.75L747.80 575.47L748.67 575.18L749.53 574.91L750.40 574.64L751.27 574.38L752.13 574.12L753.00 573.87L753.87 573.63L754.73 573.39L755.60 573.17L756.47 572.94L757.33 572.73L758.20 572.52L759.07 572.32L759.93 572.13L760.80 571.95L761.67 571.77L762.53 571.60L763.40 571.44L764.27 571.28L765.13 571.14L766.00 571.00L766.87 570.87L767.73 570.74L768.60 570.63L769.47 570.52L770.33 570.42L771.20 570.33L772.07 570.24L772.93 570.17L773.80 570.10L774.67 570.03L775.53 569.98L776.40 569.93L777.27 569.89L778.13 569.85L779.00 569.83L779.87 569.81L780.73 569.79L781.60 569.78L782.47 569.78L783.33 569.79L784.20 569.80L785.07 569.82L785.93 569.85L786.80 569.88L787.67 569.92L788.53 569.96L789.40 570.01L790.27 570.07L791.13 570.13L792.00 570.20L792.87 570.27L793.73 570.35L794.60 570.44L795.47 570.53L796.33 570.62L797.20 570.73L798.07 570.84L798.93 570.95L799.80 571.07L800.67 571.20L801.53 571.34L802.40 571.47L803.27 571.62L804.13 571.77L805.00 571.93L805.87 572.10L806.73 572.27L807.60 572.44L808.47 572.63L809.33 572.82L810.20 573.02L811.07 573.22L811.93 573.43L812.80 573.64L813.67 573.87L814.53 574.10L815.40 574.33L816.27 574.57L817.13 574.82L818.00 575.08L818.87 575.34L819.73 575.61L820.60 575.89L821.47 576.17L822.33 576.46L823.20 576.76L824.07 577.06L824.93 577.38L825.80 577.69L826.67 578.02L827.53 578.35L828.40 578.69L829.27 579.04L830.13 579.39L831.00 579.76L831.87 580.13L832.73 580.50L833.60 580.89L834.47 581.28L835.33 581.68L836.20 582.08L837.07 582.50L837.93 582.92L838.80 583.35L839.67 583.79L840.53 584.24L841.40 584.69L842.27 585.15L843.13 585.62L844.00 586.10L844.87 586.58L845.73 587.08L846.60 587.58L847.47 588.09L848.33 588.61L849.20 589.13L850.07 589.66L850.93 590.20L851.80 590.75L852.67 591.31L853.53 591.87L854.40 592.44L855.27 593.02L856.13 593.60L857.00 594.19L857.87 594.79L858.73 595.40L859.60 596.01L860.47 596.63L861.33 597.26L862.20 597.89L863.07 598.54L863.93 599.18L864.80 599.84L865.67 600.50L866.53 601.17L867.40 601.84L868.27 602.52L869.13 603.21L870.00 603.90L870.90 604.63L871.79 605.36L872.69 606.09L873.59 606.84L874.48 607.59L875.38 608.34L876.28 609.10L877.17 609.86L878.07 610.63L878.97 611.41L879.86 612.19L880.76 612.97L881.66 613.76L882.55 614.55L883.45 615.34L884.34 616.14L885.24 616.94L886.14 617.74L887.03 618.55L887.93 619.35L888.83 620.16L889.72 620.98L890.62 621.79L891.52 622.60L892.41 623.42L893.31 624.24L894.21 625.05L895.10 625.87L896.00 626.69" fill="none" stroke="#ff00ff" stroke-width="2.1" stroke-linejoin="round"/>
<path d="M610.00 710.00L610.87 709.51L611.73 709.01L612.60 708.51L613.47 708.01L614.33 707.50L615.20 707.00L616.07 706.50L616.93 705.99L617.80 705.49L618.67 704.98L619.53 704.47L620.40 703.95L621.27 703.44L622.13 702.92L623.00 702.40L623.87 701.88L624.73 701.35L625.60 700.82L626.47 700.28L627.33 699.75L628.20 699.20L629.07 698.66L629.93 698.11L630.80 697.55L631.67 696.99L632.53 696.42L633.40 695.85L634.27 695.27L635.13 694.69L636.00 694.10L636.87 693.51L637.73 692.91L638.60 692.30L639.47 691.69L640.33 691.08L641.20 690.46L642.07 689.83L642.93 689.21L643.80 688.58L644.67 687.95L645.53 687.31L646.40 686.68L647.27 686.04L648.13 685.40L649.00 684.76L649.87 684.12L650.73 683.49L651.60 682.85L652.47 682.21L653.33 681.58L654.20 680.94L655.07 680.31L655.93 679.68L656.80 679.06L657.67 678.44L658.53 677.82L659.40 677.21L660.27 676.60L661.13 675.99L662.00 675.40L662.87 674.80L663.73 674.22L664.60 673.64L665.47 673.06L666.33 672.50L667.20 671.93L668.07 671.37L668.93 670.82L669.80 670.28L670.67 669.74L671.53 669.20L672.40 668.67L673.27 668.15L674.13 667.63L675.00 667.11L675.87 666.60L676.73 666.10L677.60 665.60L678.47 665.11L679.33 664.62L680.20 664.14L681.07 663.66L681.93 663.18L682.80 662.71L683.67 662.25L684.53 661.79L685.40 661.33L686.27 660.88L687.13 660.44L688.00 660.00L688.87 659.56L689.73 659.13L690.60 658.70L691.47 658.27L692.33 657.85L693.20 657.44L694.07 657.03L694.93 656.62L695.80 656.22L696.67 655.82L697.53 655.42L698.40 655.03L699.27 654.64L700.13 654.26L701.00 653.88L701.87 653.50L702.73 653.13L703.60 652.76L704.47 652.40L705.33 652.04L706.20 651.68L707.07 651.32L707.93 650.97L708.80 650.62L709.67 650.28L710.53 649.94L711.40 649.60L712.27 649.26L713.13 648.93L714.00 648.60L714.87 648.28L715.73 647.95L716.60 647.63L717.47 647.32L718.33 647.00L719.20 646.69L720.07 646.39L720.93 646.09L721.80 645.79L722.67 645.49L723.53 645.20L724.40 644.91L725.27 644.63L726.13 644.35L727.00 644.07L727.87 643.80L728.73 643.54L729.60 643.27L730.47 643.01L731.33 642.76L732.20 642.51L733.07 642.27L733.93 642.03L734.80 641.79L735.67 641.56L736.53 641.34L737.40 641.12L738.27 640.90L739.13 640.69L740.00 640.49L740.87 640.29L741.73 640.10L742.60 639.91L743.47 639.72L744.33 639.55L745.20 639.37L746.07 639.21L746.93 639.05L747.80 638.89L748.67 638.74L749.53 638.59L750.40 638.45L751.27 638.32L752.13 638.18L753.00 638.06L753.87 637.94L754.73 637.82L755.60 637.71L756.47 637.61L757.33 637.51L758.20 637.41L759.07 637.32L759.93 637.24L760.80 637.16L761.67 637.08L762.53 637.01L763.40 636.95L764.27 636.89L765.13 636.83L766.00 636.78L766.87 636.74L767.73 636.70L768.60 636.66L769.47 636.63L770.33 636.60L771.20 636.58L772.07 636.56L772.93 636.55L773.80 636.54L774.67 636.54L775.53 636.54L776.40 636.54L777.27 636.55L778.13 636.56L779.00 636.58L779.87 636.60L780.73 636.63L781.60 636.66L782.47 636.69L783.33 636.72L784.20 636.76L785.07 636.81L785.93 636.86L786.80 636.91L787.67 636.96L788.53 637.02L789.40 637.08L790.27 637.14L791.13 637.21L792.00 637.28L792.87 637.36L793.73 637.44L794.60 637.52L795.47 637.60L796.33 637.69L797.20 637.78L798.07 637.87L798.93 637.97L799.80 638.08L800.67 638.18L801.53 638.29L802.40 638.41L803.27 638.53L804.13 638.65L805.00 638.78L805.87 638.91L806.73 639.05L807.60 639.19L808.47 639.34L809.33 639.49L810.20 639.64L811.07 639.81L811.93 639.97L812.80 640.14L813.67 640.32L814.53 640.50L815.40 640.69L816.27 640.89L817.13 641.08L818.00 641.29L818.87 641.50L819.73 641.72L820.60 641.94L821.47 642.17L822.33 642.40L823.20 642.64L824.07 642.89L824.93 643.14L825.80 643.39L826.67 643.65L827.53 643.92L828.40 644.19L829.27 644.46L830.13 644.74L831.00 645.03L831.87 645.32L832.73 645.61L833.60 645.91L834.47 646.21L835.33 646.52L836.20 646.83L837.07 647.15L837.93 647.46L838.80 647.79L839.67 648.11L840.53 648.45L841.40 648.78L842.27 649.12L843.13 649.46L844.00 649.80L844.87 650.15L845.73 650.50L846.60 650.86L847.47 651.22L848.33 651.58L849.20 651.95L850.07 652.32L850.93 652.69L851.80 653.07L852.67 653.45L853.53 653.83L854.40 654.22L855.27 654.62L856.13 655.01L857.00 655.42L857.87 655.82L858.73 656.23L859.60 656.65L860.47 657.07L861.33 657.49L862.20 657.92L863.07 658.35L863.93 658.79L864.80 659.24L865.67 659.68L866.53 660.14L867.40 660.59L868.27 661.06L869.13 661.53L870.00 662.00L870.87 662.48L871.73 662.96L872.60 663.45L873.47 663.95L874.33 664.45L875.20 664.95L876.07 665.46L876.93 665.97L877.80 666.49L878.67 667.01L879.53 667.54L880.40 668.07L881.27 668.61L882.13 669.15L883.00 669.69L883.87 670.24L884.73 670.79L885.60 671.35L886.47 671.91L887.33 672.47L888.20 673.04L889.07 673.61L889.93 674.19L890.80 674.77L891.67 675.35L892.53 675.93L893.40 676.52L894.27 677.11L895.13 677.70L896.00 678.30L896.87 678.90L897.73 679.50L898.60 680.11L899.47 680.72L900.33 681.33L901.20 681.95L902.07 682.57L902.93 683.19L903.80 683.82L904.67 684.45L905.53 685.09L906.40 685.73L907.27 686.37L908.13 687.02L909.00 687.68L909.87 688.34L910.73 689.00L911.60 689.67L912.47 690.35L913.33 691.03L914.20 691.72L915.07 692.41L915.93 693.11L916.80 693.81L917.67 694.52L918.53 695.24L919.40 695.97L920.27 696.70L921.13 697.44L922.00 698.18L922.90 698.96L923.79 699.75L924.69 700.54L925.59 701.35L926.48 702.15L927.38 702.97L928.28 703.79L929.17 704.61L930.07 705.45L930.97 706.28L931.86 707.13L932.76 707.97L933.66 708.82L934.55 709.68L935.45 710.54L936.34 711.40L937.24 712.27L938.14 713.14L939.03 714.01L939.93 714.89L940.83 715.77L941.72 716.65L942.62 717.53L943.52 718.42L944.41 719.30L945.31 720.19L946.21 721.07L947.10 721.96L948.00 722.85" fill="none" stroke="#008000" stroke-width="2.1" stroke-linejoin="round"/>
<circle cx="610.00" cy="646.20" r="3.60" fill="none" stroke="#000000" stroke-width="2.25"/>
<circle cx="636.00" cy="573.08" r="3.60" fill="none" stroke="#000000" stroke-width="2.25"/>
<circle cx="662.00" cy="528.78" r="3.60" fill="none" stroke="#000000" stroke-width="2.25"/>
<circle cx="688.00" cy="518.19" r="3.60" fill="none" stroke="#000000" stroke-width="2.25"/>
<circle cx="714.00" cy="543.78" r="3.60" fill="none" stroke="#000000" stroke-width="2.25"/>
<circle cx="740.00" cy="604.28" r="3.60" fill="none" stroke="#000000" stroke-width="2.25"/>
<path d="M610.00 660.70L613.95 667.65L606.05 667.65Z" fill="none" stroke="#ff0000" stroke-width="2.09" stroke-linejoin="miter"/>
<path d="M636.00 598.10L639.95 605.05L632.05 605.05Z" fill="none" stroke="#ff0000" stroke-width="2.09" stroke-linejoin="miter"/>
<path d="M662.00 546.09L665.95 553.04L658.05 553.04Z" fill="none" stroke="#ff0000" stroke-width="2.09" stroke-linejoin="miter"/>
<path d="M688.00 509.48L691.95 516.43L684.05 516.43Z" fill="none" stroke="#ff0000" stroke-width="2.09" stroke-linejoin="miter"/>
<path d="M714.00 490.87L717.95 497.82L710.05 497.82Z" fill="none" stroke="#ff0000" stroke-width="2.09" stroke-linejoin="miter"/>
<path d="M740.00 489.99L743.95 496.94L736.05 496.94Z" fill="none" stroke="#ff0000" stroke-width="2.09" stroke-linejoin="miter"/>
<path d="M766.00 506.27L769.95 513.22L762.05 513.22Z" fill="none" stroke="#ff0000" stroke-width="2.09" stroke-linejoin="miter"/>
<path d="M792.00 541.18L795.95 548.13L788.05 548.13Z" fill="none" stroke="#ff0000" stroke-width="2.09" stroke-linejoin="miter"/>
<path d="M610.00 687.58L613.95 680.63L606.05 680.63Z" fill="none" stroke="#0000ff" stroke-width="2.09" stroke-linejoin="miter"/>
<path d="M636.00 640.78L639.95 633.83L632.05 633.83Z" fill="none" stroke="#0000ff" stroke-width="2.09" stroke-linejoin="miter"/>
<path d="M662.00 598.19L665.95 591.24L658.05 591.24Z" fill="none" stroke="#0000ff" stroke-width="2.09" stroke-linejoin="miter"/>
<path d="M688.00 564.88L691.95 557.93L684.05 557.93Z" fill="none" stroke="#0000ff" stroke-width="2.09" stroke-linejoin="miter"/>
<path d="M714.00 540.89L717.95 533.94L710.05 533.94Z" fill="none" stroke="#0000ff" stroke-width="2.09" stroke-linejoin="miter"/>
<path d="M740.00 527.09L743.95 520.14L736.05 520.14Z" fill="none" stroke="#0000ff" stroke-width="2.09" stroke-linejoin="miter"/>
<path d="M766.00 521.78L769.95 514.83L762.05 514.83Z" fill="none" stroke="#0000ff" stroke-width="2.09" stroke-linejoin="miter"/>
<path d="M792.00 528.29L795.95 521.34L788.05 521.34Z" fill="none" stroke="#0000ff" stroke-width="2.09" stroke-linejoin="miter"/>
<path d="M818.00 543.29L821.95 536.34L814.05 536.34Z" fill="none" stroke="#0000ff" stroke-width="2.09" stroke-linejoin="miter"/>
<path d="M844.00 569.29L847.95 562.34L840.05 562.34Z" fill="none" stroke="#0000ff" stroke-width="2.09" stroke-linejoin="miter"/>
<rect x="606.60" y="694.01" width="6.80" height="6.80" fill="none" stroke="#ff00ff" stroke-width="2.25"/>
<rect x="632.60" y="662.31" width="6.80" height="6.80" fill="none" stroke="#ff00ff" stroke-width="2.25"/>
<rect x="658.60" y="632.18" width="6.80" height="6.80" fill="none" stroke="#ff00ff" stroke-width="2.25"/>
<rect x="684.60" y="606.99" width="6.80" height="6.80" fill="none" stroke="#ff00ff" stroke-width="2.25"/>
<rect x="710.60" y="587.88" width="6.80" height="6.80" fill="none" stroke="#ff00ff" stroke-width="2.25"/>
<rect x="736.60" y="574.89" width="6.80" height="6.80" fill="none" stroke="#ff00ff" stroke-width="2.25"/>
<rect x="762.60" y="567.60" width="6.80" height="6.80" fill="none" stroke="#ff00ff" stroke-width="2.25"/>
<rect x="788.60" y="566.80" width="6.80" height="6.80" fill="none" stroke="#ff00ff" stroke-width="2.25"/>
<rect x="814.60" y="571.68" width="6.80" height="6.80" fill="none" stroke="#ff00ff" stroke-width="2.25"/>
<rect x="840.60" y="582.70" width="6.80" height="6.80" fill="none" stroke="#ff00ff" stroke-width="2.25"/>
<rect x="866.60" y="600.50" width="6.80" height="6.80" fill="none" stroke="#ff00ff" stroke-width="2.25"/>
<rect x="892.60" y="623.29" width="6.80" height="6.80" fill="none" stroke="#ff00ff" stroke-width="2.25"/>
<path d="M610.00 705.25L614.75 710.00L610.00 714.75L605.25 710.00Z" fill="none" stroke="#008000" stroke-width="2.25"/>
<path d="M636.00 689.35L640.75 694.10L636.00 698.85L631.25 694.10Z" fill="none" stroke="#008000" stroke-width="2.25"/>
<path d="M662.00 670.65L666.75 675.40L662.00 680.15L657.25 675.40Z" fill="none" stroke="#008000" stroke-width="2.25"/>
<path d="M688.00 655.25L692.75 660.00L688.00 664.75L683.25 660.00Z" fill="none" stroke="#008000" stroke-width="2.25"/>
<path d="M714.00 643.85L718.75 648.60L714.00 653.35L709.25 648.60Z" fill="none" stroke="#008000" stroke-width="2.25"/>
<path d="M740.00 635.74L744.75 640.49L740.00 645.24L735.25 640.49Z" fill="none" stroke="#008000" stroke-width="2.25"/>
<path d="M766.00 632.03L770.75 636.78L766.00 641.53L761.25 636.78Z" fill="none" stroke="#008000" stroke-width="2.25"/>
<path d="M792.00 632.53L796.75 637.28L792.00 642.03L787.25 637.28Z" fill="none" stroke="#008000" stroke-width="2.25"/>
<path d="M818.00 636.54L822.75 641.29L818.00 646.04L813.25 641.29Z" fill="none" stroke="#008000" stroke-width="2.25"/>
<path d="M844.00 645.05L848.75 649.80L844.00 654.55L839.25 649.80Z" fill="none" stroke="#008000" stroke-width="2.25"/>
<path d="M870.00 657.25L874.75 662.00L870.00 666.75L865.25 662.00Z" fill="none" stroke="#008000" stroke-width="2.25"/>
<path d="M896.00 673.55L900.75 678.30L896.00 683.05L891.25 678.30Z" fill="none" stroke="#008000" stroke-width="2.25"/>
<path d="M922.00 693.43L926.75 698.18L922.00 702.93L917.25 698.18Z" fill="none" stroke="#008000" stroke-width="2.25"/>
<path d="M948.00 718.10L952.75 722.85L948.00 727.60L943.25 722.85Z" fill="none" stroke="#008000" stroke-width="2.25"/>
<rect x="584.0" y="451.9" width="416.00" height="300.50" fill="none" stroke="#333" stroke-width="1.7"/>
<line x1="584.00" y1="752.4" x2="584.00" y2="757.1999999999999" stroke="#333" stroke-width="1.6"/>
<text x="584.00" y="782.8" font-family="'Liberation Sans', Arial, sans-serif" font-size="18" text-anchor="middle">0.0</text>
<line x1="636.00" y1="752.4" x2="636.00" y2="757.1999999999999" stroke="#333" stroke-width="1.6"/>
<text x="636.00" y="782.8" font-family="'Liberation Sans', Arial, sans-serif" font-size="18" text-anchor="middle">0.2</text>
<line x1="688.00" y1="752.4" x2="688.00" y2="757.1999999999999" stroke="#333" stroke-width="1.6"/>
<text x="688.00" y="782.8" font-family="'Liberation Sans', Arial, sans-serif" font-size="18" text-anchor="middle">0.4</text>
<line x1="740.00" y1="752.4" x2="740.00" y2="757.1999999999999" stroke="#333" stroke-width="1.6"/>
<text x="740.00" y="782.8" font-family="'Liberation Sans', Arial, sans-serif" font-size="18" text-anchor="middle">0.6</text>
<line x1="792.00" y1="752.4" x2="792.00" y2="757.1999999999999" stroke="#333" stroke-width="1.6"/>
<text x="792.00" y="782.8" font-family="'Liberation Sans', Arial, sans-serif" font-size="18" text-anchor="middle">0.8</text>
<line x1="844.00" y1="752.4" x2="844.00" y2="757.1999999999999" stroke="#333" stroke-width="1.6"/>
<text x="844.00" y="782.8" font-family="'Liberation Sans', Arial, sans-serif" font-size="18" text-anchor="middle">1.0</text>
<line x1="896.00" y1="752.4" x2="896.00" y2="757.1999999999999" stroke="#333" stroke-width="1.6"/>
<text x="896.00" y="782.8" font-family="'Liberation Sans', Arial, sans-serif" font-size="18" text-anchor="middle">1.2</text>
<line x1="948.00" y1="752.4" x2="948.00" y2="757.1999999999999" stroke="#333" stroke-width="1.6"/>
<text x="948.00" y="782.8" font-family="'Liberation Sans', Arial, sans-serif" font-size="18" text-anchor="middle">1.4</text>
<line x1="1000.00" y1="752.4" x2="1000.00" y2="757.1999999999999" stroke="#333" stroke-width="1.6"/>
<text x="1000.00" y="782.8" font-family="'Liberation Sans', Arial, sans-serif" font-size="18" text-anchor="middle">1.6</text>
<line x1="579.2" y1="752.40" x2="584.0" y2="752.40" stroke="#333" stroke-width="1.6"/>
<text x="569.7" y="758.84" font-family="'Liberation Sans', Arial, sans-serif" font-size="18" text-anchor="end">-6</text>
<line x1="579.2" y1="702.32" x2="584.0" y2="702.32" stroke="#333" stroke-width="1.6"/>
<text x="569.7" y="708.76" font-family="'Liberation Sans', Arial, sans-serif" font-size="18" text-anchor="end">-4</text>
<line x1="579.2" y1="652.23" x2="584.0" y2="652.23" stroke="#333" stroke-width="1.6"/>
<text x="569.7" y="658.68" font-family="'Liberation Sans', Arial, sans-serif" font-size="18" text-anchor="end">-2</text>
<line x1="579.2" y1="602.15" x2="584.0" y2="602.15" stroke="#333" stroke-width="1.6"/>
<text x="569.7" y="608.59" font-family="'Liberation Sans', Arial, sans-serif" font-size="18" text-anchor="end">0</text>
<line x1="579.2" y1="552.07" x2="584.0" y2="552.07" stroke="#333" stroke-width="1.6"/>
<text x="569.7" y="558.51" font-family="'Liberation Sans', Arial, sans-serif" font-size="18" text-anchor="end">2</text>
<line x1="579.2" y1="501.98" x2="584.0" y2="501.98" stroke="#333" stroke-width="1.6"/>
<text x="569.7" y="508.43" font-family="'Liberation Sans', Arial, sans-serif" font-size="18" text-anchor="end">4</text>
<line x1="579.2" y1="451.90" x2="584.0" y2="451.90" stroke="#333" stroke-width="1.6"/>
<text x="569.7" y="458.34" font-family="'Liberation Sans', Arial, sans-serif" font-size="18" text-anchor="end">6</text>
<text x="790.8" y="432.0" font-family="'Liberation Serif', 'Times New Roman', serif" font-weight="bold" font-size="28" text-anchor="middle">s = 10 <tspan font-weight="normal" stroke="#000" stroke-width="0.5">μ</tspan><tspan dx="0.8">m</tspan></text>
<text x="791.6" y="810.4" font-family="'Liberation Serif', 'Times New Roman', serif" font-weight="bold" font-size="23.65" text-anchor="middle">Gap (<tspan dx="0.6" font-weight="normal" stroke="#000" stroke-width="0.5">μ</tspan><tspan dx="0.8">m)</tspan></text>
<text transform="translate(549.1 602.1) rotate(-90)" x="0" y="0" font-family="'Liberation Serif', 'Times New Roman', serif" font-weight="bold" font-size="23.65" text-anchor="middle">Deviation (%)</text>
<text x="531.8" y="437.0" font-family="'Liberation Sans', Arial, sans-serif" font-size="26">(d)</text>
<rect x="869.2" y="455.3" width="127.50" height="138.90" fill="#fff" stroke="#333" stroke-width="1.3"/>
<line x1="876.8" y1="474.8" x2="920.5" y2="474.8" stroke="#000000" stroke-width="2.1"/>
<circle cx="898.50" cy="474.80" r="3.60" fill="none" stroke="#000000" stroke-width="2.25"/>
<text transform="translate(929.40 482.20) scale(1.28 1)" font-family="'Liberation Serif', 'Times New Roman', serif" font-size="18.8">μ</text>
<text x="945.40" y="482.20" font-family="'Liberation Sans', Arial, sans-serif" font-size="18.8">= 0.7</text>
<line x1="876.8" y1="499.7" x2="920.5" y2="499.7" stroke="#ff0000" stroke-width="2.1"/>
<path d="M898.50 495.40L902.45 502.35L894.55 502.35Z" fill="none" stroke="#ff0000" stroke-width="2.09" stroke-linejoin="miter"/>
<text transform="translate(929.40 507.10) scale(1.28 1)" font-family="'Liberation Serif', 'Times New Roman', serif" font-size="18.8">μ</text>
<text x="945.40" y="507.10" font-family="'Liberation Sans', Arial, sans-serif" font-size="18.8">= 0.6</text>
<line x1="876.8" y1="524.5" x2="920.5" y2="524.5" stroke="#0000ff" stroke-width="2.1"/>
<path d="M898.50 528.80L902.45 521.85L894.55 521.85Z" fill="none" stroke="#0000ff" stroke-width="2.09" stroke-linejoin="miter"/>
<text transform="translate(929.40 531.90) scale(1.28 1)" font-family="'Liberation Serif', 'Times New Roman', serif" font-size="18.8">μ</text>
<text x="945.40" y="531.90" font-family="'Liberation Sans', Arial, sans-serif" font-size="18.8">= 0.5</text>
<line x1="876.8" y1="549.4" x2="920.5" y2="549.4" stroke="#ff00ff" stroke-width="2.1"/>
<rect x="895.10" y="546.00" width="6.80" height="6.80" fill="none" stroke="#ff00ff" stroke-width="2.25"/>
<text transform="translate(929.40 556.80) scale(1.28 1)" font-family="'Liberation Serif', 'Times New Roman', serif" font-size="18.8">μ</text>
<text x="945.40" y="556.80" font-family="'Liberation Sans', Arial, sans-serif" font-size="18.8">= 0.4</text>
<line x1="876.8" y1="574.0" x2="920.5" y2="574.0" stroke="#008000" stroke-width="2.1"/>
<path d="M898.50 569.25L903.25 574.00L898.50 578.75L893.75 574.00Z" fill="none" stroke="#008000" stroke-width="2.25"/>
<text transform="translate(929.40 581.40) scale(1.28 1)" font-family="'Liberation Serif', 'Times New Roman', serif" font-size="18.8">μ</text>
<text x="945.40" y="581.40" font-family="'Liberation Sans', Arial, sans-serif" font-size="18.8">= 0.3</text>
<path d="M345.79 1069.62L346.48 1067.29L347.17 1064.96L347.86 1062.64L348.55 1060.31L349.24 1057.99L349.93 1055.68L350.62 1053.36L351.31 1051.06L352.00 1048.75L352.69 1046.46L353.38 1044.17L354.07 1041.89L354.76 1039.61L355.45 1037.35L356.14 1035.10L356.82 1032.85L357.51 1030.62L358.20 1028.40L358.89 1026.19L359.58 1024.00L360.27 1021.81L360.96 1019.65L361.65 1017.50L362.34 1015.36L363.03 1013.24L363.72 1011.14L364.41 1009.06L365.10 1006.99L365.79 1004.95L366.48 1002.93L367.17 1000.92L367.86 998.94L368.55 996.98L369.24 995.04L369.93 993.12L370.62 991.22L371.31 989.35L372.00 987.49L372.69 985.66L373.38 983.85L374.07 982.06L374.76 980.29L375.45 978.55L376.14 976.83L376.83 975.13L377.51 973.45L378.20 971.80L378.89 970.17L379.58 968.56L380.27 966.98L380.96 965.41L381.65 963.88L382.34 962.36L383.03 960.87L383.72 959.40L384.41 957.96L385.10 956.54L385.79 955.14L386.48 953.77L387.17 952.42L387.86 951.10L388.55 949.80L389.24 948.52L389.93 947.27L390.62 946.05L391.31 944.84L392.00 943.67L392.69 942.51L393.38 941.38L394.07 940.28L394.76 939.20L395.45 938.14L396.14 937.11L396.83 936.10L397.51 935.11L398.20 934.15L398.89 933.22L399.58 932.31L400.27 931.42L400.96 930.55L401.65 929.71L402.34 928.90L403.03 928.10L403.72 927.34L404.41 926.59L405.10 925.87L405.79 925.17L406.48 924.50L407.17 923.85L407.86 923.23L408.55 922.63L409.24 922.05L409.93 921.50L410.62 920.97L411.31 920.46L412.00 919.98L412.69 919.53L413.38 919.10L414.07 918.69L414.76 918.31L415.45 917.95L416.14 917.62L416.83 917.31L417.52 917.03L418.21 916.77L418.89 916.54L419.58 916.34L420.27 916.16L420.96 916.01L421.65 915.88L422.34 915.77L423.03 915.70L423.72 915.65L424.41 915.63L425.10 915.63L425.79 915.66L426.48 915.71L427.17 915.80L427.86 915.90L428.55 916.04L429.24 916.20L429.93 916.39L430.62 916.61L431.31 916.86L432.00 917.13L432.69 917.43L433.38 917.76L434.07 918.11L434.76 918.50L435.45 918.91L436.14 919.35L436.83 919.82L437.52 920.32L438.21 920.85L438.90 921.40L439.58 921.99L440.27 922.60L440.96 923.25L441.65 923.92L442.34 924.62L443.03 925.36L443.72 926.12L444.41 926.91L445.10 927.74L445.79 928.59L446.48 929.48L447.17 930.39L447.86 931.34L448.55 932.32L449.24 933.32L449.95 934.40L450.67 935.51L451.38 936.65L452.09 937.82L452.81 939.01L453.52 940.24L454.23 941.49L454.95 942.77L455.66 944.07L456.37 945.40L457.09 946.75L457.80 948.11L458.51 949.50L459.23 950.91L459.94 952.33L460.66 953.77L461.37 955.23L462.08 956.69L462.80 958.18L463.51 959.67L464.22 961.17L464.94 962.68L465.65 964.21L466.36 965.73L467.08 967.27L467.79 968.80L468.50 970.34L469.22 971.89L469.93 973.43" fill="none" stroke="#000000" stroke-width="2.1" stroke-linejoin="round"/>
<path d="M345.79 1087.10L346.48 1085.35L347.17 1083.60L347.86 1081.85L348.55 1080.10L349.24 1078.35L349.93 1076.60L350.62 1074.85L351.31 1073.10L352.00 1071.36L352.69 1069.61L353.38 1067.87L354.07 1066.13L354.76 1064.39L355.45 1062.65L356.14 1060.92L356.82 1059.19L357.51 1057.46L358.20 1055.73L358.89 1054.01L359.58 1052.29L360.27 1050.57L360.96 1048.86L361.65 1047.15L362.34 1045.45L363.03 1043.75L363.72 1042.05L364.41 1040.36L365.10 1038.67L365.79 1036.98L366.48 1035.31L367.17 1033.63L367.86 1031.97L368.55 1030.30L369.24 1028.65L369.93 1026.99L370.62 1025.35L371.31 1023.71L372.00 1022.08L372.69 1020.45L373.38 1018.83L374.07 1017.22L374.76 1015.61L375.45 1014.01L376.14 1012.42L376.83 1010.83L377.51 1009.25L378.20 1007.68L378.89 1006.12L379.58 1004.57L380.27 1003.02L380.96 1001.48L381.65 999.95L382.34 998.43L383.03 996.92L383.72 995.41L384.41 993.92L385.10 992.43L385.79 990.96L386.48 989.49L387.17 988.03L387.86 986.59L388.55 985.15L389.24 983.72L389.93 982.31L390.62 980.90L391.31 979.51L392.00 978.12L392.69 976.75L393.38 975.39L394.07 974.03L394.76 972.69L395.45 971.37L396.14 970.05L396.83 968.75L397.51 967.45L398.20 966.17L398.89 964.90L399.58 963.65L400.27 962.41L400.96 961.18L401.65 959.96L402.34 958.75L403.03 957.56L403.72 956.39L404.41 955.22L405.10 954.07L405.79 952.94L406.48 951.82L407.17 950.71L407.86 949.62L408.55 948.54L409.24 947.47L409.93 946.42L410.62 945.39L411.31 944.37L412.00 943.36L412.69 942.36L413.38 941.38L414.07 940.42L414.76 939.46L415.45 938.52L416.14 937.59L416.83 936.68L417.52 935.77L418.21 934.88L418.89 934.01L419.58 933.14L420.27 932.29L420.96 931.45L421.65 930.62L422.34 929.80L423.03 928.99L423.72 928.20L424.41 927.41L425.10 926.64L425.79 925.88L426.48 925.13L427.17 924.38L427.86 923.65L428.55 922.93L429.24 922.22L429.93 921.52L430.62 920.84L431.31 920.16L432.00 919.49L432.69 918.83L433.38 918.19L434.07 917.55L434.76 916.93L435.45 916.32L436.14 915.72L436.83 915.13L437.52 914.56L438.21 914.00L438.90 913.45L439.58 912.91L440.27 912.39L440.96 911.88L441.65 911.38L442.34 910.90L443.03 910.43L443.72 909.97L444.41 909.53L445.10 909.10L445.79 908.69L446.48 908.29L447.17 907.91L447.86 907.54L448.55 907.18L449.24 906.85L449.93 906.52L450.62 906.21L451.31 905.92L452.00 905.64L452.69 905.38L453.38 905.13L454.07 904.90L454.76 904.68L455.45 904.47L456.14 904.28L456.83 904.10L457.52 903.94L458.21 903.79L458.90 903.65L459.59 903.53L460.27 903.42L460.96 903.32L461.65 903.23L462.34 903.16L463.03 903.10L463.72 903.05L464.41 903.02L465.10 902.99L465.79 902.98L466.48 902.98L467.17 902.99L467.86 903.01L468.55 903.04L469.24 903.09L469.93 903.14L470.62 903.20L471.31 903.28L472.00 903.37L472.69 903.46L473.38 903.57L474.07 903.69L474.76 903.82L475.45 903.97L476.14 904.12L476.83 904.29L477.52 904.47L478.21 904.66L478.90 904.87L479.59 905.08L480.27 905.31L480.96 905.56L481.65 905.81L482.34 906.08L483.03 906.37L483.72 906.66L484.41 906.97L485.10 907.30L485.79 907.64L486.48 907.99L487.17 908.36L487.86 908.74L488.55 909.14L489.24 909.55L489.93 909.98L490.62 910.43L491.33 910.90L492.05 911.39L492.76 911.90L493.47 912.42L494.19 912.96L494.90 913.51L495.61 914.07L496.33 914.64L497.04 915.23L497.75 915.83L498.47 916.44L499.18 917.06L499.89 917.69L500.61 918.33L501.32 918.98L502.04 919.63L502.75 920.30L503.46 920.97L504.18 921.64L504.89 922.33L505.60 923.01L506.32 923.70L507.03 924.40L507.74 925.10L508.46 925.80L509.17 926.51L509.88 927.21L510.60 927.92L511.31 928.63" fill="none" stroke="#ff0000" stroke-width="2.1" stroke-linejoin="round"/>
<path d="M345.79 1103.71L346.48 1102.53L347.17 1101.35L347.86 1100.17L348.55 1098.98L349.24 1097.80L349.93 1096.62L350.62 1095.43L351.31 1094.25L352.00 1093.06L352.69 1091.87L353.38 1090.68L354.07 1089.49L354.76 1088.30L355.45 1087.11L356.14 1085.91L356.82 1084.72L357.51 1083.52L358.20 1082.32L358.89 1081.12L359.58 1079.91L360.27 1078.70L360.96 1077.49L361.65 1076.28L362.34 1075.07L363.03 1073.85L363.72 1072.62L364.41 1071.40L365.10 1070.17L365.79 1068.94L366.48 1067.71L367.17 1066.47L367.86 1065.23L368.55 1063.98L369.24 1062.73L369.93 1061.48L370.62 1060.23L371.31 1058.98L372.00 1057.73L372.69 1056.48L373.38 1055.23L374.07 1053.98L374.76 1052.73L375.45 1051.48L376.14 1050.23L376.83 1048.99L377.51 1047.75L378.20 1046.51L378.89 1045.28L379.58 1044.05L380.27 1042.82L380.96 1041.60L381.65 1040.39L382.34 1039.18L383.03 1037.98L383.72 1036.78L384.41 1035.60L385.10 1034.42L385.79 1033.24L386.48 1032.08L387.17 1030.93L387.86 1029.78L388.55 1028.65L389.24 1027.52L389.93 1026.41L390.62 1025.30L391.31 1024.20L392.00 1023.11L392.69 1022.03L393.38 1020.96L394.07 1019.89L394.76 1018.84L395.45 1017.79L396.14 1016.75L396.83 1015.72L397.51 1014.69L398.20 1013.68L398.89 1012.67L399.58 1011.67L400.27 1010.68L400.96 1009.69L401.65 1008.71L402.34 1007.74L403.03 1006.78L403.72 1005.82L404.41 1004.87L405.10 1003.93L405.79 1002.99L406.48 1002.06L407.17 1001.14L407.86 1000.22L408.55 999.31L409.24 998.40L409.93 997.50L410.62 996.61L411.31 995.72L412.00 994.84L412.69 993.96L413.38 993.09L414.07 992.23L414.76 991.37L415.45 990.52L416.14 989.68L416.83 988.84L417.52 988.01L418.21 987.18L418.89 986.36L419.58 985.55L420.27 984.74L420.96 983.94L421.65 983.14L422.34 982.36L423.03 981.57L423.72 980.79L424.41 980.02L425.10 979.26L425.79 978.50L426.48 977.75L427.17 977.00L427.86 976.26L428.55 975.52L429.24 974.80L429.93 974.07L430.62 973.36L431.31 972.65L432.00 971.94L432.69 971.25L433.38 970.56L434.07 969.87L434.76 969.19L435.45 968.52L436.14 967.86L436.83 967.20L437.52 966.55L438.21 965.90L438.90 965.26L439.58 964.63L440.27 964.01L440.96 963.39L441.65 962.78L442.34 962.17L443.03 961.58L443.72 960.99L444.41 960.41L445.10 959.83L445.79 959.26L446.48 958.70L447.17 958.15L447.86 957.60L448.55 957.06L449.24 956.53L449.93 956.00L450.62 955.48L451.31 954.98L452.00 954.47L452.69 953.98L453.38 953.49L454.07 953.01L454.76 952.54L455.45 952.07L456.14 951.61L456.83 951.16L457.52 950.72L458.21 950.29L458.90 949.86L459.59 949.44L460.27 949.02L460.96 948.62L461.65 948.22L462.34 947.83L463.03 947.45L463.72 947.07L464.41 946.70L465.10 946.34L465.79 945.99L466.48 945.64L467.17 945.30L467.86 944.97L468.55 944.65L469.24 944.33L469.93 944.02L470.62 943.72L471.31 943.42L472.00 943.13L472.69 942.85L473.38 942.58L474.07 942.32L474.76 942.06L475.45 941.81L476.14 941.56L476.83 941.32L477.52 941.09L478.21 940.87L478.90 940.65L479.59 940.44L480.27 940.23L480.96 940.04L481.65 939.85L482.34 939.66L483.03 939.48L483.72 939.31L484.41 939.14L485.10 938.99L485.79 938.83L486.48 938.68L487.17 938.54L487.86 938.41L488.55 938.28L489.24 938.16L489.93 938.04L490.62 937.93L491.31 937.82L492.00 937.72L492.69 937.63L493.38 937.54L494.07 937.46L494.76 937.38L495.45 937.31L496.14 937.24L496.83 937.19L497.52 937.13L498.21 937.09L498.90 937.05L499.59 937.02L500.28 936.99L500.97 936.97L501.65 936.96L502.34 936.96L503.03 936.96L503.72 936.97L504.41 936.98L505.10 937.00L505.79 937.03L506.48 937.07L507.17 937.11L507.86 937.16L508.55 937.22L509.24 937.29L509.93 937.36L510.62 937.44L511.31 937.53L512.00 937.62L512.69 937.73L513.38 937.84L514.07 937.96L514.76 938.08L515.45 938.22L516.14 938.36L516.83 938.51L517.52 938.67L518.21 938.83L518.90 939.00L519.59 939.18L520.28 939.37L520.97 939.56L521.65 939.76L522.34 939.97L523.03 940.18L523.72 940.40L524.41 940.63L525.10 940.87L525.79 941.11L526.48 941.36L527.17 941.62L527.86 941.89L528.55 942.16L529.24 942.44L529.93 942.72L530.62 943.02L531.31 943.31L532.00 943.62L532.69 943.93L533.38 944.25L534.07 944.58L534.76 944.91L535.45 945.26L536.14 945.60L536.83 945.96L537.52 946.32L538.21 946.69L538.90 947.07L539.59 947.45L540.28 947.84L540.97 948.24L541.66 948.64L542.35 949.05L543.03 949.47L543.72 949.90L544.41 950.33L545.10 950.77L545.79 951.22L546.48 951.68L547.17 952.14L547.86 952.62L548.55 953.09L549.24 953.58L549.93 954.08L550.62 954.58L551.31 955.09L552.00 955.60L552.69 956.13L553.40 956.68L554.12 957.24L554.83 957.81L555.54 958.38L556.26 958.96L556.97 959.55L557.68 960.15L558.40 960.75L559.11 961.36L559.82 961.97L560.54 962.59L561.25 963.21L561.96 963.84L562.68 964.47L563.39 965.11L564.11 965.75L564.82 966.40L565.53 967.05L566.25 967.70L566.96 968.35L567.67 969.01L568.39 969.67L569.10 970.33L569.81 971.00L570.53 971.66L571.24 972.33L571.95 973.00L572.67 973.66L573.38 974.33" fill="none" stroke="#0000ff" stroke-width="2.1" stroke-linejoin="round"/>
<path d="M345.79 1115.30L346.48 1114.57L347.17 1113.85L347.86 1113.12L348.55 1112.39L349.24 1111.67L349.93 1110.94L350.62 1110.21L351.31 1109.48L352.00 1108.75L352.69 1108.02L353.38 1107.29L354.07 1106.55L354.76 1105.82L355.45 1105.08L356.14 1104.35L356.82 1103.61L357.51 1102.87L358.20 1102.12L358.89 1101.38L359.58 1100.63L360.27 1099.88L360.96 1099.13L361.65 1098.38L362.34 1097.62L363.03 1096.86L363.72 1096.10L364.41 1095.33L365.10 1094.56L365.79 1093.79L366.48 1093.02L367.17 1092.24L367.86 1091.46L368.55 1090.67L369.24 1089.89L369.93 1089.10L370.62 1088.31L371.31 1087.51L372.00 1086.72L372.69 1085.92L373.38 1085.12L374.07 1084.32L374.76 1083.52L375.45 1082.72L376.14 1081.92L376.83 1081.12L377.51 1080.32L378.20 1079.52L378.89 1078.72L379.58 1077.92L380.27 1077.12L380.96 1076.32L381.65 1075.52L382.34 1074.73L383.03 1073.93L383.72 1073.14L384.41 1072.35L385.10 1071.56L385.79 1070.78L386.48 1070.00L387.17 1069.22L387.86 1068.44L388.55 1067.67L389.24 1066.90L389.93 1066.14L390.62 1065.38L391.31 1064.62L392.00 1063.86L392.69 1063.11L393.38 1062.36L394.07 1061.62L394.76 1060.88L395.45 1060.14L396.14 1059.40L396.83 1058.67L397.51 1057.94L398.20 1057.22L398.89 1056.50L399.58 1055.78L400.27 1055.06L400.96 1054.35L401.65 1053.64L402.34 1052.94L403.03 1052.23L403.72 1051.54L404.41 1050.84L405.10 1050.15L405.79 1049.46L406.48 1048.77L407.17 1048.09L407.86 1047.41L408.55 1046.74L409.24 1046.06L409.93 1045.39L410.62 1044.73L411.31 1044.07L412.00 1043.41L412.69 1042.75L413.38 1042.10L414.07 1041.45L414.76 1040.81L415.45 1040.17L416.14 1039.53L416.83 1038.90L417.52 1038.27L418.21 1037.65L418.89 1037.03L419.58 1036.41L420.27 1035.80L420.96 1035.20L421.65 1034.59L422.34 1033.99L423.03 1033.40L423.72 1032.81L424.41 1032.22L425.10 1031.64L425.79 1031.07L426.48 1030.50L427.17 1029.93L427.86 1029.37L428.55 1028.81L429.24 1028.26L429.93 1027.71L430.62 1027.17L431.31 1026.63L432.00 1026.10L432.69 1025.57L433.38 1025.05L434.07 1024.53L434.76 1024.02L435.45 1023.51L436.14 1023.00L436.83 1022.50L437.52 1022.00L438.21 1021.51L438.90 1021.03L439.58 1020.54L440.27 1020.06L440.96 1019.59L441.65 1019.12L442.34 1018.65L443.03 1018.19L443.72 1017.73L444.41 1017.28L445.10 1016.83L445.79 1016.38L446.48 1015.94L447.17 1015.51L447.86 1015.07L448.55 1014.64L449.24 1014.21L449.93 1013.79L450.62 1013.37L451.31 1012.96L452.00 1012.55L452.69 1012.14L453.38 1011.74L454.07 1011.34L454.76 1010.94L455.45 1010.55L456.14 1010.16L456.83 1009.78L457.52 1009.40L458.21 1009.03L458.90 1008.66L459.59 1008.29L460.27 1007.93L460.96 1007.57L461.65 1007.22L462.34 1006.87L463.03 1006.52L463.72 1006.18L464.41 1005.85L465.10 1005.51L465.79 1005.19L466.48 1004.87L467.17 1004.55L467.86 1004.23L468.55 1003.93L469.24 1003.62L469.93 1003.32L470.62 1003.03L471.31 1002.74L472.00 1002.45L472.69 1002.17L473.38 1001.90L474.07 1001.63L474.76 1001.36L475.45 1001.10L476.14 1000.84L476.83 1000.59L477.52 1000.34L478.21 1000.10L478.90 999.86L479.59 999.62L480.27 999.39L480.96 999.16L481.65 998.94L482.34 998.72L483.03 998.51L483.72 998.30L484.41 998.10L485.10 997.90L485.79 997.70L486.48 997.51L487.17 997.32L487.86 997.13L488.55 996.95L489.24 996.78L489.93 996.60L490.62 996.44L491.31 996.27L492.00 996.11L492.69 995.95L493.38 995.80L494.07 995.65L494.76 995.51L495.45 995.37L496.14 995.23L496.83 995.09L497.52 994.97L498.21 994.84L498.90 994.72L499.59 994.60L500.28 994.49L500.97 994.38L501.65 994.27L502.34 994.17L503.03 994.08L503.72 993.98L504.41 993.89L505.10 993.81L505.79 993.73L506.48 993.65L507.17 993.58L507.86 993.51L508.55 993.45L509.24 993.38L509.93 993.33L510.62 993.28L511.31 993.23L512.00 993.18L512.69 993.14L513.38 993.11L514.07 993.07L514.76 993.05L515.45 993.02L516.14 993.00L516.83 992.99L517.52 992.97L518.21 992.97L518.90 992.96L519.59 992.96L520.28 992.97L520.97 992.97L521.65 992.99L522.34 993.00L523.03 993.02L523.72 993.04L524.41 993.07L525.10 993.10L525.79 993.14L526.48 993.18L527.17 993.22L527.86 993.27L528.55 993.32L529.24 993.37L529.93 993.43L530.62 993.49L531.31 993.56L532.00 993.63L532.69 993.70L533.38 993.77L534.07 993.86L534.76 993.94L535.45 994.03L536.14 994.12L536.83 994.22L537.52 994.32L538.21 994.42L538.90 994.53L539.59 994.64L540.28 994.76L540.97 994.88L541.66 995.00L542.35 995.13L543.03 995.27L543.72 995.41L544.41 995.55L545.10 995.70L545.79 995.85L546.48 996.01L547.17 996.17L547.86 996.33L548.55 996.50L549.24 996.68L549.93 996.86L550.62 997.04L551.31 997.23L552.00 997.43L552.69 997.63L553.38 997.83L554.07 998.04L554.76 998.26L555.45 998.48L556.14 998.70L556.83 998.93L557.52 999.17L558.21 999.40L558.90 999.65L559.59 999.90L560.28 1000.15L560.97 1000.40L561.66 1000.67L562.35 1000.93L563.04 1001.20L563.72 1001.47L564.41 1001.75L565.10 1002.03L565.79 1002.32L566.48 1002.61L567.17 1002.90L567.86 1003.20L568.55 1003.50L569.24 1003.81L569.93 1004.11L570.62 1004.43L571.31 1004.74L572.00 1005.06L572.69 1005.38L573.38 1005.71L574.07 1006.04L574.76 1006.37L575.45 1006.71L576.14 1007.05L576.83 1007.39L577.52 1007.74L578.21 1008.09L578.90 1008.44L579.59 1008.80L580.28 1009.17L580.97 1009.53L581.66 1009.90L582.35 1010.28L583.04 1010.66L583.73 1011.04L584.41 1011.43L585.10 1011.83L585.79 1012.23L586.48 1012.63L587.17 1013.04L587.86 1013.45L588.55 1013.87L589.24 1014.30L589.93 1014.73L590.62 1015.16L591.31 1015.60L592.00 1016.05L592.69 1016.50L593.38 1016.96L594.07 1017.42L594.78 1017.91L595.50 1018.40L596.21 1018.90L596.92 1019.40L597.64 1019.91L598.35 1020.43L599.06 1020.95L599.78 1021.47L600.49 1022.00L601.20 1022.53L601.92 1023.07L602.63 1023.61L603.34 1024.16L604.06 1024.71L604.77 1025.26L605.49 1025.81L606.20 1026.37L606.91 1026.93L607.63 1027.50L608.34 1028.06L609.05 1028.63L609.77 1029.20L610.48 1029.77L611.19 1030.34L611.91 1030.91L612.62 1031.49L613.33 1032.06L614.05 1032.64L614.76 1033.21" fill="none" stroke="#ff00ff" stroke-width="2.1" stroke-linejoin="round"/>
<path d="M345.79 1125.82L346.48 1125.57L347.17 1125.32L347.86 1125.06L348.55 1124.81L349.24 1124.56L349.93 1124.31L350.62 1124.05L351.31 1123.80L352.00 1123.54L352.69 1123.28L353.38 1123.01L354.07 1122.75L354.76 1122.48L355.45 1122.21L356.14 1121.94L356.82 1121.66L357.51 1121.38L358.20 1121.10L358.89 1120.81L359.58 1120.52L360.27 1120.22L360.96 1119.92L361.65 1119.61L362.34 1119.30L363.03 1118.98L363.72 1118.66L364.41 1118.33L365.10 1118.00L365.79 1117.66L366.48 1117.31L367.17 1116.96L367.86 1116.60L368.55 1116.23L369.24 1115.86L369.93 1115.48L370.62 1115.10L371.31 1114.71L372.00 1114.32L372.69 1113.92L373.38 1113.52L374.07 1113.11L374.76 1112.70L375.45 1112.28L376.14 1111.86L376.83 1111.44L377.51 1111.01L378.20 1110.58L378.89 1110.15L379.58 1109.71L380.27 1109.27L380.96 1108.83L381.65 1108.39L382.34 1107.95L383.03 1107.50L383.72 1107.05L384.41 1106.61L385.10 1106.16L385.79 1105.71L386.48 1105.26L387.17 1104.80L387.86 1104.35L388.55 1103.90L389.24 1103.45L389.93 1103.00L390.62 1102.55L391.31 1102.10L392.00 1101.65L392.69 1101.20L393.38 1100.76L394.07 1100.31L394.76 1099.86L395.45 1099.42L396.14 1098.98L396.83 1098.54L397.51 1098.10L398.20 1097.66L398.89 1097.23L399.58 1096.79L400.27 1096.36L400.96 1095.93L401.65 1095.51L402.34 1095.08L403.03 1094.66L403.72 1094.24L404.41 1093.83L405.10 1093.41L405.79 1093.01L406.48 1092.60L407.17 1092.20L407.86 1091.80L408.55 1091.40L409.24 1091.01L409.93 1090.62L410.62 1090.24L411.31 1089.86L412.00 1089.48L412.69 1089.11L413.38 1088.74L414.07 1088.37L414.76 1088.01L415.45 1087.64L416.14 1087.29L416.83 1086.93L417.52 1086.58L418.21 1086.23L418.89 1085.88L419.58 1085.54L420.27 1085.20L420.96 1084.86L421.65 1084.53L422.34 1084.19L423.03 1083.86L423.72 1083.54L424.41 1083.21L425.10 1082.89L425.79 1082.57L426.48 1082.25L427.17 1081.93L427.86 1081.62L428.55 1081.31L429.24 1080.99L429.93 1080.69L430.62 1080.38L431.31 1080.08L432.00 1079.78L432.69 1079.48L433.38 1079.18L434.07 1078.89L434.76 1078.59L435.45 1078.31L436.14 1078.02L436.83 1077.74L437.52 1077.46L438.21 1077.18L438.90 1076.91L439.58 1076.64L440.27 1076.37L440.96 1076.10L441.65 1075.84L442.34 1075.59L443.03 1075.33L443.72 1075.08L444.41 1074.84L445.10 1074.59L445.79 1074.36L446.48 1074.12L447.17 1073.89L447.86 1073.66L448.55 1073.44L449.24 1073.22L449.93 1073.01L450.62 1072.80L451.31 1072.59L452.00 1072.39L452.69 1072.20L453.38 1072.00L454.07 1071.81L454.76 1071.62L455.45 1071.44L456.14 1071.26L456.83 1071.08L457.52 1070.90L458.21 1070.73L458.90 1070.56L459.59 1070.39L460.27 1070.22L460.96 1070.05L461.65 1069.89L462.34 1069.73L463.03 1069.57L463.72 1069.41L464.41 1069.25L465.10 1069.09L465.79 1068.94L466.48 1068.78L467.17 1068.62L467.86 1068.47L468.55 1068.31L469.24 1068.16L469.93 1068.00L470.62 1067.85L471.31 1067.69L472.00 1067.53L472.69 1067.38L473.38 1067.22L474.07 1067.07L474.76 1066.91L475.45 1066.76L476.14 1066.61L476.83 1066.45L477.52 1066.30L478.21 1066.15L478.90 1066.01L479.59 1065.86L480.27 1065.72L480.96 1065.58L481.65 1065.44L482.34 1065.30L483.03 1065.17L483.72 1065.04L484.41 1064.91L485.10 1064.79L485.79 1064.66L486.48 1064.55L487.17 1064.43L487.86 1064.32L488.55 1064.22L489.24 1064.11L489.93 1064.02L490.62 1063.92L491.31 1063.83L492.00 1063.75L492.69 1063.67L493.38 1063.60L494.07 1063.52L494.76 1063.46L495.45 1063.39L496.14 1063.33L496.83 1063.28L497.52 1063.23L498.21 1063.18L498.90 1063.13L499.59 1063.09L500.28 1063.05L500.97 1063.01L501.65 1062.98L502.34 1062.95L503.03 1062.92L503.72 1062.89L504.41 1062.86L505.10 1062.84L505.79 1062.82L506.48 1062.80L507.17 1062.78L507.86 1062.77L508.55 1062.75L509.24 1062.74L509.93 1062.73L510.62 1062.72L511.31 1062.70L512.00 1062.69L512.69 1062.69L513.38 1062.68L514.07 1062.67L514.76 1062.67L515.45 1062.66L516.14 1062.66L516.83 1062.66L517.52 1062.66L518.21 1062.67L518.90 1062.67L519.59 1062.68L520.28 1062.70L520.97 1062.71L521.65 1062.73L522.34 1062.75L523.03 1062.78L523.72 1062.81L524.41 1062.84L525.10 1062.88L525.79 1062.92L526.48 1062.97L527.17 1063.02L527.86 1063.08L528.55 1063.14L529.24 1063.20L529.93 1063.28L530.62 1063.35L531.31 1063.44L532.00 1063.53L532.69 1063.62L533.38 1063.72L534.07 1063.83L534.76 1063.94L535.45 1064.06L536.14 1064.18L536.83 1064.31L537.52 1064.44L538.21 1064.57L538.90 1064.71L539.59 1064.86L540.28 1065.00L540.97 1065.15L541.66 1065.31L542.35 1065.46L543.03 1065.62L543.72 1065.79L544.41 1065.95L545.10 1066.11L545.79 1066.28L546.48 1066.45L547.17 1066.62L547.86 1066.79L548.55 1066.96L549.24 1067.14L549.93 1067.31L550.62 1067.48L551.31 1067.66L552.00 1067.83L552.69 1068.00L553.38 1068.17L554.07 1068.34L554.76 1068.51L555.45 1068.68L556.14 1068.85L556.83 1069.02L557.52 1069.19L558.21 1069.36L558.90 1069.54L559.59 1069.71L560.28 1069.88L560.97 1070.06L561.66 1070.23L562.35 1070.41L563.04 1070.59L563.72 1070.77L564.41 1070.96L565.10 1071.14L565.79 1071.33L566.48 1071.52L567.17 1071.71L567.86 1071.91L568.55 1072.11L569.24 1072.32L569.93 1072.52L570.62 1072.73L571.31 1072.95L572.00 1073.17L572.69 1073.39L573.38 1073.62L574.07 1073.85L574.76 1074.09L575.45 1074.33L576.14 1074.58L576.83 1074.83L577.52 1075.09L578.21 1075.34L578.90 1075.61L579.59 1075.87L580.28 1076.14L580.97 1076.42L581.66 1076.69L582.35 1076.97L583.04 1077.26L583.73 1077.54L584.41 1077.83L585.10 1078.12L585.79 1078.42L586.48 1078.71L587.17 1079.01L587.86 1079.31L588.55 1079.62L589.24 1079.92L589.93 1080.23L590.62 1080.54L591.31 1080.85L592.00 1081.16L592.69 1081.47L593.38 1081.79L594.07 1082.10L594.76 1082.42L595.45 1082.73L596.14 1083.05L596.83 1083.37L597.52 1083.69L598.21 1084.02L598.90 1084.34L599.59 1084.67L600.28 1084.99L600.97 1085.33L601.66 1085.66L602.35 1085.99L603.04 1086.33L603.73 1086.67L604.41 1087.02L605.10 1087.36L605.79 1087.71L606.48 1088.07L607.17 1088.42L607.86 1088.78L608.55 1089.15L609.24 1089.52L609.93 1089.89L610.62 1090.26L611.31 1090.65L612.00 1091.03L612.69 1091.42L613.38 1091.82L614.07 1092.21L614.76 1092.62L615.47 1093.04L616.19 1093.47L616.90 1093.91L617.61 1094.35L618.33 1094.79L619.04 1095.24L619.75 1095.69L620.47 1096.15L621.18 1096.61L621.89 1097.08L622.61 1097.55L623.32 1098.02L624.03 1098.50L624.75 1098.97L625.46 1099.46L626.18 1099.94L626.89 1100.43L627.60 1100.92L628.32 1101.41L629.03 1101.90L629.74 1102.40L630.46 1102.89L631.17 1103.39L631.88 1103.89L632.60 1104.39L633.31 1104.89L634.02 1105.39L634.74 1105.89L635.45 1106.40" fill="none" stroke="#008000" stroke-width="2.1" stroke-linejoin="round"/>
<circle cx="345.79" cy="1069.62" r="3.60" fill="none" stroke="#000000" stroke-width="2.25"/>
<circle cx="366.48" cy="1002.93" r="3.60" fill="none" stroke="#000000" stroke-width="2.25"/>
<circle cx="387.17" cy="952.42" r="3.60" fill="none" stroke="#000000" stroke-width="2.25"/>
<circle cx="407.86" cy="923.23" r="3.60" fill="none" stroke="#000000" stroke-width="2.25"/>
<circle cx="428.55" cy="916.04" r="3.60" fill="none" stroke="#000000" stroke-width="2.25"/>
<circle cx="449.24" cy="933.32" r="3.60" fill="none" stroke="#000000" stroke-width="2.25"/>
<circle cx="469.93" cy="973.43" r="3.60" fill="none" stroke="#000000" stroke-width="2.25"/>
<path d="M345.79 1082.80L349.74 1089.75L341.84 1089.75Z" fill="none" stroke="#ff0000" stroke-width="2.09" stroke-linejoin="miter"/>
<path d="M366.48 1031.01L370.43 1037.96L362.53 1037.96Z" fill="none" stroke="#ff0000" stroke-width="2.09" stroke-linejoin="miter"/>
<path d="M387.17 983.73L391.12 990.68L383.22 990.68Z" fill="none" stroke="#ff0000" stroke-width="2.09" stroke-linejoin="miter"/>
<path d="M407.86 945.32L411.81 952.27L403.91 952.27Z" fill="none" stroke="#ff0000" stroke-width="2.09" stroke-linejoin="miter"/>
<path d="M428.55 918.63L432.50 925.58L424.60 925.58Z" fill="none" stroke="#ff0000" stroke-width="2.09" stroke-linejoin="miter"/>
<path d="M449.24 902.55L453.19 909.50L445.29 909.50Z" fill="none" stroke="#ff0000" stroke-width="2.09" stroke-linejoin="miter"/>
<path d="M469.93 898.84L473.88 905.79L465.98 905.79Z" fill="none" stroke="#ff0000" stroke-width="2.09" stroke-linejoin="miter"/>
<path d="M490.62 906.13L494.57 913.08L486.67 913.08Z" fill="none" stroke="#ff0000" stroke-width="2.09" stroke-linejoin="miter"/>
<path d="M511.31 924.33L515.26 931.28L507.36 931.28Z" fill="none" stroke="#ff0000" stroke-width="2.09" stroke-linejoin="miter"/>
<path d="M345.79 1108.01L349.74 1101.06L341.84 1101.06Z" fill="none" stroke="#0000ff" stroke-width="2.09" stroke-linejoin="miter"/>
<path d="M366.48 1072.01L370.43 1065.06L362.53 1065.06Z" fill="none" stroke="#0000ff" stroke-width="2.09" stroke-linejoin="miter"/>
<path d="M387.17 1035.23L391.12 1028.28L383.22 1028.28Z" fill="none" stroke="#0000ff" stroke-width="2.09" stroke-linejoin="miter"/>
<path d="M407.86 1004.52L411.81 997.57L403.91 997.57Z" fill="none" stroke="#0000ff" stroke-width="2.09" stroke-linejoin="miter"/>
<path d="M428.55 979.82L432.50 972.87L424.60 972.87Z" fill="none" stroke="#0000ff" stroke-width="2.09" stroke-linejoin="miter"/>
<path d="M449.24 960.83L453.19 953.88L445.29 953.88Z" fill="none" stroke="#0000ff" stroke-width="2.09" stroke-linejoin="miter"/>
<path d="M469.93 948.32L473.88 941.37L465.98 941.37Z" fill="none" stroke="#0000ff" stroke-width="2.09" stroke-linejoin="miter"/>
<path d="M490.62 942.23L494.57 935.28L486.67 935.28Z" fill="none" stroke="#0000ff" stroke-width="2.09" stroke-linejoin="miter"/>
<path d="M511.31 941.83L515.26 934.88L507.36 934.88Z" fill="none" stroke="#0000ff" stroke-width="2.09" stroke-linejoin="miter"/>
<path d="M532.00 947.92L535.95 940.97L528.05 940.97Z" fill="none" stroke="#0000ff" stroke-width="2.09" stroke-linejoin="miter"/>
<path d="M552.69 960.43L556.64 953.48L548.74 953.48Z" fill="none" stroke="#0000ff" stroke-width="2.09" stroke-linejoin="miter"/>
<path d="M573.38 978.63L577.33 971.68L569.43 971.68Z" fill="none" stroke="#0000ff" stroke-width="2.09" stroke-linejoin="miter"/>
<rect x="342.39" y="1111.90" width="6.80" height="6.80" fill="none" stroke="#ff00ff" stroke-width="2.25"/>
<rect x="363.08" y="1089.62" width="6.80" height="6.80" fill="none" stroke="#ff00ff" stroke-width="2.25"/>
<rect x="383.77" y="1065.82" width="6.80" height="6.80" fill="none" stroke="#ff00ff" stroke-width="2.25"/>
<rect x="404.46" y="1044.01" width="6.80" height="6.80" fill="none" stroke="#ff00ff" stroke-width="2.25"/>
<rect x="425.15" y="1025.41" width="6.80" height="6.80" fill="none" stroke="#ff00ff" stroke-width="2.25"/>
<rect x="445.84" y="1010.81" width="6.80" height="6.80" fill="none" stroke="#ff00ff" stroke-width="2.25"/>
<rect x="466.53" y="999.92" width="6.80" height="6.80" fill="none" stroke="#ff00ff" stroke-width="2.25"/>
<rect x="487.22" y="993.04" width="6.80" height="6.80" fill="none" stroke="#ff00ff" stroke-width="2.25"/>
<rect x="507.91" y="989.83" width="6.80" height="6.80" fill="none" stroke="#ff00ff" stroke-width="2.25"/>
<rect x="528.60" y="990.23" width="6.80" height="6.80" fill="none" stroke="#ff00ff" stroke-width="2.25"/>
<rect x="549.29" y="994.23" width="6.80" height="6.80" fill="none" stroke="#ff00ff" stroke-width="2.25"/>
<rect x="569.98" y="1002.31" width="6.80" height="6.80" fill="none" stroke="#ff00ff" stroke-width="2.25"/>
<rect x="590.67" y="1014.02" width="6.80" height="6.80" fill="none" stroke="#ff00ff" stroke-width="2.25"/>
<rect x="611.36" y="1029.81" width="6.80" height="6.80" fill="none" stroke="#ff00ff" stroke-width="2.25"/>
<path d="M345.79 1121.07L350.54 1125.82L345.79 1130.57L341.04 1125.82Z" fill="none" stroke="#008000" stroke-width="2.25"/>
<path d="M366.48 1112.56L371.23 1117.31L366.48 1122.06L361.73 1117.31Z" fill="none" stroke="#008000" stroke-width="2.25"/>
<path d="M387.17 1100.05L391.92 1104.80L387.17 1109.55L382.42 1104.80Z" fill="none" stroke="#008000" stroke-width="2.25"/>
<path d="M407.86 1087.05L412.61 1091.80L407.86 1096.55L403.11 1091.80Z" fill="none" stroke="#008000" stroke-width="2.25"/>
<path d="M428.55 1076.56L433.30 1081.31L428.55 1086.06L423.80 1081.31Z" fill="none" stroke="#008000" stroke-width="2.25"/>
<path d="M449.24 1068.47L453.99 1073.22L449.24 1077.97L444.49 1073.22Z" fill="none" stroke="#008000" stroke-width="2.25"/>
<path d="M469.93 1063.25L474.68 1068.00L469.93 1072.75L465.18 1068.00Z" fill="none" stroke="#008000" stroke-width="2.25"/>
<path d="M490.62 1059.17L495.37 1063.92L490.62 1068.67L485.87 1063.92Z" fill="none" stroke="#008000" stroke-width="2.25"/>
<path d="M511.31 1057.95L516.06 1062.70L511.31 1067.45L506.56 1062.70Z" fill="none" stroke="#008000" stroke-width="2.25"/>
<path d="M532.00 1058.78L536.75 1063.53L532.00 1068.28L527.25 1063.53Z" fill="none" stroke="#008000" stroke-width="2.25"/>
<path d="M552.69 1063.25L557.44 1068.00L552.69 1072.75L547.94 1068.00Z" fill="none" stroke="#008000" stroke-width="2.25"/>
<path d="M573.38 1068.87L578.13 1073.62L573.38 1078.37L568.63 1073.62Z" fill="none" stroke="#008000" stroke-width="2.25"/>
<path d="M594.07 1077.35L598.82 1082.10L594.07 1086.85L589.32 1082.10Z" fill="none" stroke="#008000" stroke-width="2.25"/>
<path d="M614.76 1087.87L619.51 1092.62L614.76 1097.37L610.01 1092.62Z" fill="none" stroke="#008000" stroke-width="2.25"/>
<path d="M635.45 1101.65L640.20 1106.40L635.45 1111.15L630.70 1106.40Z" fill="none" stroke="#008000" stroke-width="2.25"/>
<rect x="325.1" y="863.1" width="413.80" height="298.40" fill="none" stroke="#333" stroke-width="1.7"/>
<line x1="325.10" y1="1161.5" x2="325.10" y2="1166.3" stroke="#333" stroke-width="1.6"/>
<text x="325.10" y="1192.1" font-family="'Liberation Sans', Arial, sans-serif" font-size="18" text-anchor="middle">0.0</text>
<line x1="428.55" y1="1161.5" x2="428.55" y2="1166.3" stroke="#333" stroke-width="1.6"/>
<text x="428.55" y="1192.1" font-family="'Liberation Sans', Arial, sans-serif" font-size="18" text-anchor="middle">0.5</text>
<line x1="532.00" y1="1161.5" x2="532.00" y2="1166.3" stroke="#333" stroke-width="1.6"/>
<text x="532.00" y="1192.1" font-family="'Liberation Sans', Arial, sans-serif" font-size="18" text-anchor="middle">1.0</text>
<line x1="635.45" y1="1161.5" x2="635.45" y2="1166.3" stroke="#333" stroke-width="1.6"/>
<text x="635.45" y="1192.1" font-family="'Liberation Sans', Arial, sans-serif" font-size="18" text-anchor="middle">1.5</text>
<line x1="738.90" y1="1161.5" x2="738.90" y2="1166.3" stroke="#333" stroke-width="1.6"/>
<text x="738.90" y="1192.1" font-family="'Liberation Sans', Arial, sans-serif" font-size="18" text-anchor="middle">2.0</text>
<line x1="320.3" y1="1161.50" x2="325.1" y2="1161.50" stroke="#333" stroke-width="1.6"/>
<text x="310.9" y="1167.94" font-family="'Liberation Sans', Arial, sans-serif" font-size="18" text-anchor="end">-6</text>
<line x1="320.3" y1="1111.77" x2="325.1" y2="1111.77" stroke="#333" stroke-width="1.6"/>
<text x="310.9" y="1118.21" font-family="'Liberation Sans', Arial, sans-serif" font-size="18" text-anchor="end">-4</text>
<line x1="320.3" y1="1062.03" x2="325.1" y2="1062.03" stroke="#333" stroke-width="1.6"/>
<text x="310.9" y="1068.48" font-family="'Liberation Sans', Arial, sans-serif" font-size="18" text-anchor="end">-2</text>
<line x1="320.3" y1="1012.30" x2="325.1" y2="1012.30" stroke="#333" stroke-width="1.6"/>
<text x="310.9" y="1018.74" font-family="'Liberation Sans', Arial, sans-serif" font-size="18" text-anchor="end">0</text>
<line x1="320.3" y1="962.57" x2="325.1" y2="962.57" stroke="#333" stroke-width="1.6"/>
<text x="310.9" y="969.01" font-family="'Liberation Sans', Arial, sans-serif" font-size="18" text-anchor="end">2</text>
<line x1="320.3" y1="912.83" x2="325.1" y2="912.83" stroke="#333" stroke-width="1.6"/>
<text x="310.9" y="919.28" font-family="'Liberation Sans', Arial, sans-serif" font-size="18" text-anchor="end">4</text>
<line x1="320.3" y1="863.10" x2="325.1" y2="863.10" stroke="#333" stroke-width="1.6"/>
<text x="310.9" y="869.54" font-family="'Liberation Sans', Arial, sans-serif" font-size="18" text-anchor="end">6</text>
<text x="531.5" y="842.1" font-family="'Liberation Serif', 'Times New Roman', serif" font-weight="bold" font-size="28" text-anchor="middle">s = 12 <tspan font-weight="normal" stroke="#000" stroke-width="0.5">μ</tspan><tspan dx="0.8">m</tspan></text>
<text x="531.8" y="1219.2" font-family="'Liberation Serif', 'Times New Roman', serif" font-weight="bold" font-size="23.65" text-anchor="middle">Gap (<tspan dx="0.6" font-weight="normal" stroke="#000" stroke-width="0.5">μ</tspan><tspan dx="0.8">m)</tspan></text>
<text transform="translate(289.7 1011.8) rotate(-90)" x="0" y="0" font-family="'Liberation Serif', 'Times New Roman', serif" font-weight="bold" font-size="23.65" text-anchor="middle">Deviation (%)</text>
<text x="272.0" y="847.0" font-family="'Liberation Sans', Arial, sans-serif" font-size="26">(e)</text>
<rect x="607.2" y="873.6" width="127.00" height="138.10" fill="#fff" stroke="#333" stroke-width="1.3"/>
<line x1="614.8" y1="893.1" x2="658.5" y2="893.1" stroke="#000000" stroke-width="2.1"/>
<circle cx="636.50" cy="893.10" r="3.60" fill="none" stroke="#000000" stroke-width="2.25"/>
<text transform="translate(667.40 900.50) scale(1.28 1)" font-family="'Liberation Serif', 'Times New Roman', serif" font-size="18.8">μ</text>
<text x="683.40" y="900.50" font-family="'Liberation Sans', Arial, sans-serif" font-size="18.8">= 0.7</text>
<line x1="614.8" y1="917.7" x2="658.5" y2="917.7" stroke="#ff0000" stroke-width="2.1"/>
<path d="M636.50 913.40L640.45 920.35L632.55 920.35Z" fill="none" stroke="#ff0000" stroke-width="2.09" stroke-linejoin="miter"/>
<text transform="translate(667.40 925.10) scale(1.28 1)" font-family="'Liberation Serif', 'Times New Roman', serif" font-size="18.8">μ</text>
<text x="683.40" y="925.10" font-family="'Liberation Sans', Arial, sans-serif" font-size="18.8">= 0.6</text>
<line x1="614.8" y1="942.5" x2="658.5" y2="942.5" stroke="#0000ff" stroke-width="2.1"/>
<path d="M636.50 946.80L640.45 939.85L632.55 939.85Z" fill="none" stroke="#0000ff" stroke-width="2.09" stroke-linejoin="miter"/>
<text transform="translate(667.40 949.90) scale(1.28 1)" font-family="'Liberation Serif', 'Times New Roman', serif" font-size="18.8">μ</text>
<text x="683.40" y="949.90" font-family="'Liberation Sans', Arial, sans-serif" font-size="18.8">= 0.5</text>
<line x1="614.8" y1="967.1" x2="658.5" y2="967.1" stroke="#ff00ff" stroke-width="2.1"/>
<rect x="633.10" y="963.70" width="6.80" height="6.80" fill="none" stroke="#ff00ff" stroke-width="2.25"/>
<text transform="translate(667.40 974.50) scale(1.28 1)" font-family="'Liberation Serif', 'Times New Roman', serif" font-size="18.8">μ</text>
<text x="683.40" y="974.50" font-family="'Liberation Sans', Arial, sans-serif" font-size="18.8">= 0.4</text>
<line x1="614.8" y1="991.7" x2="658.5" y2="991.7" stroke="#008000" stroke-width="2.1"/>
<path d="M636.50 986.95L641.25 991.70L636.50 996.45L631.75 991.70Z" fill="none" stroke="#008000" stroke-width="2.25"/>
<text transform="translate(667.40 999.10) scale(1.28 1)" font-family="'Liberation Serif', 'Times New Roman', serif" font-size="18.8">μ</text>
<text x="683.40" y="999.10" font-family="'Liberation Sans', Arial, sans-serif" font-size="18.8">= 0.3</text>
</svg>
</body></html>
